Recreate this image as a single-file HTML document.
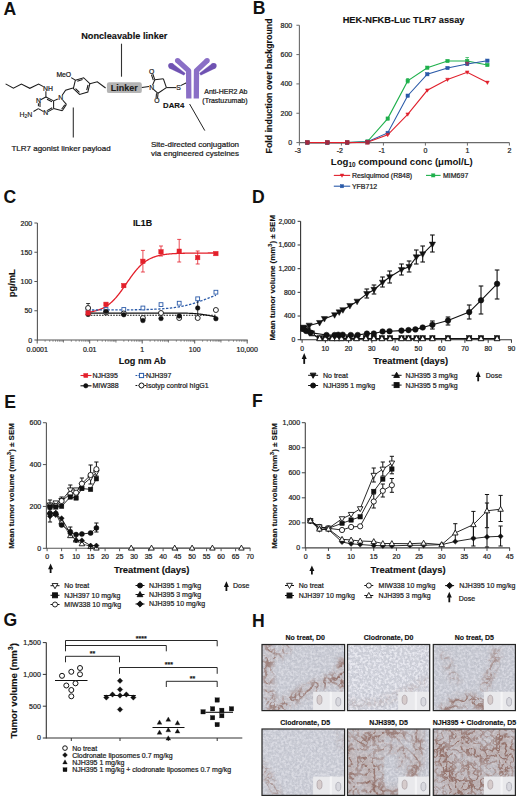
<!DOCTYPE html>
<html><head><meta charset="utf-8"><style>
html,body{margin:0;padding:0;background:#fff;}
svg{display:block;font-family:"Liberation Sans", sans-serif;}
</style></head><body>
<svg width="520" height="806" viewBox="0 0 520 806">
<rect width="520" height="806" fill="#fff"/>
<text x="3.60" y="14.60" font-size="17.6" text-anchor="start" font-weight="bold" fill="#111"  >A</text>
<text x="252.80" y="14.30" font-size="17.6" text-anchor="start" font-weight="bold" fill="#111"  >B</text>
<text x="3.40" y="203.20" font-size="17.6" text-anchor="start" font-weight="bold" fill="#111"  >C</text>
<text x="252.00" y="202.70" font-size="17.6" text-anchor="start" font-weight="bold" fill="#111"  >D</text>
<text x="4.20" y="408.00" font-size="17.6" text-anchor="start" font-weight="bold" fill="#111"  >E</text>
<text x="252.00" y="407.30" font-size="17.6" text-anchor="start" font-weight="bold" fill="#111"  >F</text>
<text x="3.60" y="626.30" font-size="17.6" text-anchor="start" font-weight="bold" fill="#111"  >G</text>
<text x="252.00" y="626.80" font-size="17.6" text-anchor="start" font-weight="bold" fill="#111"  >H</text>
<text x="124.30" y="39.00" font-size="9.2" text-anchor="middle" font-weight="bold" fill="#111" stroke="#111" stroke-width="0.14" >Noncleavable linker</text>
<line x1="121.50" y1="43.70" x2="121.50" y2="76.70" stroke="#333" stroke-width="1.1" />
<line x1="73.30" y1="107.50" x2="73.30" y2="137.50" stroke="#333" stroke-width="1.1" />
<text x="61.00" y="151.30" font-size="8.0" text-anchor="middle" font-weight="normal" fill="#1a1a1a" stroke="#1a1a1a" stroke-width="0.22" >TLR7 agonist linker payload</text>
<polyline points="5.60,83.90 13.40,88.20 21.40,84.00 29.80,88.30 38.60,84.10 43.40,86.60" stroke="#1a1a1a" stroke-width="1.05" fill="none" />
<text x="48.00" y="90.80" font-size="6.8" text-anchor="middle" font-weight="normal" fill="#1a1a1a" stroke="#1a1a1a" stroke-width="0.22" >NH</text>
<line x1="45.90" y1="91.20" x2="45.90" y2="97.00" stroke="#1a1a1a" stroke-width="1.05" />
<line x1="45.90" y1="97.00" x2="40.65" y2="99.73" stroke="#1a1a1a" stroke-width="1.05" />
<line x1="38.40" y1="103.21" x2="38.40" y2="106.29" stroke="#1a1a1a" stroke-width="1.05" />
<line x1="38.40" y1="108.60" x2="43.51" y2="111.61" stroke="#1a1a1a" stroke-width="1.05" />
<line x1="48.07" y1="111.61" x2="53.60" y2="108.60" stroke="#1a1a1a" stroke-width="1.05" />
<line x1="53.60" y1="108.60" x2="53.60" y2="100.90" stroke="#1a1a1a" stroke-width="1.05" />
<line x1="53.60" y1="100.90" x2="45.90" y2="97.00" stroke="#1a1a1a" stroke-width="1.05" />
<line x1="40.00" y1="102.60" x2="40.00" y2="106.90" stroke="#1a1a1a" stroke-width="1.05" />
<line x1="47.00" y1="99.20" x2="52.00" y2="101.80" stroke="#1a1a1a" stroke-width="1.05" />
<line x1="47.50" y1="110.40" x2="52.20" y2="107.80" stroke="#1a1a1a" stroke-width="1.05" />
<text x="38.40" y="103.10" font-size="6.8" text-anchor="middle" font-weight="normal" fill="#1a1a1a" stroke="#1a1a1a" stroke-width="0.22" >N</text>
<text x="45.70" y="115.20" font-size="6.8" text-anchor="middle" font-weight="normal" fill="#1a1a1a" stroke="#1a1a1a" stroke-width="0.22" >N</text>
<line x1="38.40" y1="108.60" x2="33.50" y2="111.50" stroke="#1a1a1a" stroke-width="1.05" />
<text x="19.4" y="116.6" font-size="7" fill="#1a1a1a" stroke="#1a1a1a" stroke-width="0.15">H<tspan font-size="4.8" dy="1.7">2</tspan><tspan dy="-1.7">N</tspan></text>
<line x1="53.60" y1="100.90" x2="57.80" y2="98.92" stroke="#1a1a1a" stroke-width="1.05" />
<line x1="62.63" y1="99.98" x2="66.40" y2="104.40" stroke="#1a1a1a" stroke-width="1.05" />
<line x1="66.40" y1="104.40" x2="62.30" y2="110.80" stroke="#1a1a1a" stroke-width="1.05" />
<line x1="62.30" y1="110.80" x2="53.60" y2="108.60" stroke="#1a1a1a" stroke-width="1.05" />
<line x1="64.80" y1="104.80" x2="61.60" y2="109.20" stroke="#1a1a1a" stroke-width="1.05" />
<text x="60.60" y="99.80" font-size="6.8" text-anchor="middle" font-weight="normal" fill="#1a1a1a" stroke="#1a1a1a" stroke-width="0.22" >N</text>
<polyline points="62.20,95.20 65.60,90.20 72.90,88.00" stroke="#1a1a1a" stroke-width="1.05" fill="none" />
<polyline points="75.37,80.17 83.62,77.74 89.85,83.67 87.83,92.03 79.58,94.46 73.35,88.53 75.37,80.17" stroke="#1a1a1a" stroke-width="1.05" fill="none" />
<line x1="77.28" y1="81.17" x2="82.56" y2="79.62" stroke="#1a1a1a" stroke-width="1.05" />
<line x1="88.03" y1="84.82" x2="86.73" y2="90.17" stroke="#1a1a1a" stroke-width="1.05" />
<line x1="79.49" y1="92.31" x2="75.51" y2="88.51" stroke="#1a1a1a" stroke-width="1.05" />
<line x1="75.37" y1="80.17" x2="71.20" y2="77.60" stroke="#1a1a1a" stroke-width="1.05" />
<text x="63.80" y="77.40" font-size="6.8" text-anchor="middle" font-weight="normal" fill="#1a1a1a" stroke="#1a1a1a" stroke-width="0.22" >MeO</text>
<polyline points="89.85,83.67 97.30,81.80 105.60,88.00" stroke="#1a1a1a" stroke-width="1.05" fill="none" />
<rect x="106.9" y="82.3" width="34.9" height="10.8" rx="2.2" fill="#b4b4b4"/>
<text x="124.30" y="91.30" font-size="9.0" text-anchor="middle" font-weight="bold" fill="#1a1a1a" stroke="#1a1a1a" stroke-width="0.14" >Linker</text>
<line x1="141.80" y1="87.60" x2="149.00" y2="86.60" stroke="#1a1a1a" stroke-width="1.05" />
<line x1="152.56" y1="85.23" x2="154.80" y2="79.70" stroke="#1a1a1a" stroke-width="1.05" />
<line x1="154.80" y1="79.70" x2="163.40" y2="78.80" stroke="#1a1a1a" stroke-width="1.05" />
<line x1="163.40" y1="78.80" x2="166.40" y2="87.60" stroke="#1a1a1a" stroke-width="1.05" />
<line x1="166.40" y1="87.60" x2="158.00" y2="93.30" stroke="#1a1a1a" stroke-width="1.05" />
<line x1="158.00" y1="93.30" x2="153.52" y2="89.31" stroke="#1a1a1a" stroke-width="1.05" />
<text x="151.60" y="89.80" font-size="6.8" text-anchor="middle" font-weight="normal" fill="#1a1a1a" stroke="#1a1a1a" stroke-width="0.22" >N</text>
<line x1="154.80" y1="79.70" x2="152.80" y2="74.00" stroke="#1a1a1a" stroke-width="1.05" />
<line x1="153.30" y1="80.20" x2="151.40" y2="74.60" stroke="#1a1a1a" stroke-width="1.05" />
<text x="151.60" y="73.80" font-size="6.8" text-anchor="middle" font-weight="normal" fill="#1a1a1a" stroke="#1a1a1a" stroke-width="0.22" >O</text>
<line x1="158.00" y1="93.30" x2="157.60" y2="98.00" stroke="#1a1a1a" stroke-width="1.05" />
<line x1="156.50" y1="93.30" x2="156.10" y2="98.00" stroke="#1a1a1a" stroke-width="1.05" />
<text x="157.00" y="102.80" font-size="6.8" text-anchor="middle" font-weight="normal" fill="#1a1a1a" stroke="#1a1a1a" stroke-width="0.22" >O</text>
<line x1="166.40" y1="87.60" x2="176.40" y2="87.60" stroke="#1a1a1a" stroke-width="1.05" />
<text x="178.60" y="89.80" font-size="6.8" text-anchor="middle" font-weight="normal" fill="#1a1a1a" stroke="#1a1a1a" stroke-width="0.22" >S</text>
<line x1="180.60" y1="85.60" x2="186.50" y2="82.80" stroke="#1a1a1a" stroke-width="1.05" />
<polyline points="177.6,60.6 188.6,70.6 188.8,98.4" fill="none" stroke="#8a6fc6" stroke-width="5.3" stroke-linejoin="round"/>
<polyline points="207.1,60.6 196.5,70.6 196.3,98.4" fill="none" stroke="#8a6fc6" stroke-width="5.3" stroke-linejoin="round"/>
<circle cx="177.6" cy="60.6" r="2.65" fill="#8a6fc6"/>
<circle cx="207.1" cy="60.6" r="2.65" fill="#8a6fc6"/>
<polygon points="169.53,68.18 184.02,75.14 185.18,73.26 172.47,63.42" fill="#6f52b2" stroke="#6f52b2" stroke-width="0.4" stroke-linejoin="round"/>
<circle cx="171.00" cy="65.80" r="2.80" fill="#6f52b2"/>
<polygon points="212.33,63.42 199.62,73.26 200.78,75.14 215.27,68.18" fill="#6f52b2" stroke="#6f52b2" stroke-width="0.4" stroke-linejoin="round"/>
<circle cx="213.80" cy="65.80" r="2.80" fill="#6f52b2"/>
<text x="204.30" y="94.00" font-size="7.0" text-anchor="start" font-weight="normal" fill="#1a1a1a" stroke="#1a1a1a" stroke-width="0.22" >Anti-HER2 Ab</text>
<text x="202.30" y="102.80" font-size="7.0" text-anchor="start" font-weight="normal" fill="#1a1a1a" stroke="#1a1a1a" stroke-width="0.22" >(Trastuzumab)</text>
<text x="163.00" y="108.20" font-size="7.8" text-anchor="start" font-weight="bold" fill="#111" stroke="#111" stroke-width="0.14" >DAR4</text>
<line x1="189.60" y1="104.00" x2="204.80" y2="130.60" stroke="#222" stroke-width="1.0" />
<text x="151.00" y="147.40" font-size="8.0" text-anchor="start" font-weight="normal" fill="#1a1a1a" stroke="#1a1a1a" stroke-width="0.22" >Site-directed conjugation</text>
<text x="151.00" y="155.80" font-size="8.0" text-anchor="start" font-weight="normal" fill="#1a1a1a" stroke="#1a1a1a" stroke-width="0.22" >via engineered cysteines</text>
<line x1="299.40" y1="143.10" x2="299.40" y2="25.24" stroke="#6a6a6a" stroke-width="1.1" />
<line x1="299.40" y1="142.60" x2="509.40" y2="142.60" stroke="#6a6a6a" stroke-width="1.1" />
<line x1="296.40" y1="142.60" x2="299.40" y2="142.60" stroke="#6a6a6a" stroke-width="1" />
<text x="292.20" y="145.00" font-size="7" text-anchor="end" font-weight="normal" fill="#222" stroke="#222" stroke-width="0.22" >0</text>
<line x1="296.40" y1="113.26" x2="299.40" y2="113.26" stroke="#6a6a6a" stroke-width="1" />
<text x="292.20" y="115.66" font-size="7" text-anchor="end" font-weight="normal" fill="#222" stroke="#222" stroke-width="0.22" >200</text>
<line x1="296.40" y1="83.92" x2="299.40" y2="83.92" stroke="#6a6a6a" stroke-width="1" />
<text x="292.20" y="86.32" font-size="7" text-anchor="end" font-weight="normal" fill="#222" stroke="#222" stroke-width="0.22" >400</text>
<line x1="296.40" y1="54.58" x2="299.40" y2="54.58" stroke="#6a6a6a" stroke-width="1" />
<text x="292.20" y="56.98" font-size="7" text-anchor="end" font-weight="normal" fill="#222" stroke="#222" stroke-width="0.22" >600</text>
<line x1="296.40" y1="25.24" x2="299.40" y2="25.24" stroke="#6a6a6a" stroke-width="1" />
<text x="292.20" y="27.64" font-size="7" text-anchor="end" font-weight="normal" fill="#222" stroke="#222" stroke-width="0.22" >800</text>
<line x1="299.40" y1="142.60" x2="299.40" y2="145.60" stroke="#6a6a6a" stroke-width="1" />
<text x="297.80" y="153.20" font-size="7" text-anchor="middle" font-weight="normal" fill="#222" stroke="#222" stroke-width="0.22" >-3</text>
<line x1="341.40" y1="142.60" x2="341.40" y2="145.60" stroke="#6a6a6a" stroke-width="1" />
<text x="339.80" y="153.20" font-size="7" text-anchor="middle" font-weight="normal" fill="#222" stroke="#222" stroke-width="0.22" >-2</text>
<line x1="383.40" y1="142.60" x2="383.40" y2="145.60" stroke="#6a6a6a" stroke-width="1" />
<text x="381.80" y="153.20" font-size="7" text-anchor="middle" font-weight="normal" fill="#222" stroke="#222" stroke-width="0.22" >-1</text>
<line x1="425.40" y1="142.60" x2="425.40" y2="145.60" stroke="#6a6a6a" stroke-width="1" />
<text x="425.40" y="153.20" font-size="7" text-anchor="middle" font-weight="normal" fill="#222" stroke="#222" stroke-width="0.22" >0</text>
<line x1="467.40" y1="142.60" x2="467.40" y2="145.60" stroke="#6a6a6a" stroke-width="1" />
<text x="467.40" y="153.20" font-size="7" text-anchor="middle" font-weight="normal" fill="#222" stroke="#222" stroke-width="0.22" >1</text>
<line x1="509.40" y1="142.60" x2="509.40" y2="145.60" stroke="#6a6a6a" stroke-width="1" />
<text x="509.40" y="153.20" font-size="7" text-anchor="middle" font-weight="normal" fill="#222" stroke="#222" stroke-width="0.22" >2</text>
<text x="403.60" y="23.30" font-size="9.25" text-anchor="middle" font-weight="bold" fill="#111" stroke="#111" stroke-width="0.14" >HEK-NFKB-Luc TLR7 assay</text>
<text transform="translate(272.30,85.90) rotate(-90)" font-size="8.85" text-anchor="middle" font-weight="bold" fill="#111" stroke="#111" stroke-width="0.14">Fold induction over background</text>
<text x="330.8" y="164.6" font-size="9.6" font-weight="bold" fill="#111">Log<tspan font-size="6.4" dy="2.2">10</tspan><tspan dy="-2.2"> compound conc (&#956;mol/L)</tspan></text>
<polyline points="307.40,142.60 327.40,142.60 347.20,142.60 367.50,141.50 387.70,118.60 407.70,80.90 427.30,67.70 447.50,61.00 467.20,61.00 487.40,65.00" stroke="#1fb04c" stroke-width="1.1" fill="none" />
<polyline points="307.40,142.60 327.40,142.60 347.20,142.60 367.50,141.80 387.70,132.90 407.70,95.70 427.30,74.20 447.50,68.00 467.20,64.00 487.40,60.70" stroke="#2a5aa8" stroke-width="1.1" fill="none" />
<polyline points="307.40,142.60 327.40,142.60 347.20,142.60 367.50,142.20 387.70,134.80 407.70,114.30 427.30,90.30 447.50,79.60 467.20,72.30 487.40,82.50" stroke="#e0202c" stroke-width="1.1" fill="none" />
<line x1="467.20" y1="57.50" x2="467.20" y2="64.50" stroke="#1fb04c" stroke-width="0.7" />
<line x1="465.40" y1="57.50" x2="469.00" y2="57.50" stroke="#1fb04c" stroke-width="0.7" />
<line x1="465.40" y1="64.50" x2="469.00" y2="64.50" stroke="#1fb04c" stroke-width="0.7" />
<line x1="407.70" y1="78.50" x2="407.70" y2="83.00" stroke="#1fb04c" stroke-width="0.7" />
<line x1="406.20" y1="78.50" x2="409.20" y2="78.50" stroke="#1fb04c" stroke-width="0.7" />
<line x1="406.20" y1="83.00" x2="409.20" y2="83.00" stroke="#1fb04c" stroke-width="0.7" />
<rect x="305.70" y="140.90" width="3.40" height="3.40" fill="#1fb04c" stroke="#1fb04c" stroke-width="0.5"/>
<rect x="325.70" y="140.90" width="3.40" height="3.40" fill="#1fb04c" stroke="#1fb04c" stroke-width="0.5"/>
<rect x="345.50" y="140.90" width="3.40" height="3.40" fill="#1fb04c" stroke="#1fb04c" stroke-width="0.5"/>
<rect x="365.80" y="139.80" width="3.40" height="3.40" fill="#1fb04c" stroke="#1fb04c" stroke-width="0.5"/>
<rect x="386.00" y="116.90" width="3.40" height="3.40" fill="#1fb04c" stroke="#1fb04c" stroke-width="0.5"/>
<rect x="406.00" y="79.20" width="3.40" height="3.40" fill="#1fb04c" stroke="#1fb04c" stroke-width="0.5"/>
<rect x="425.60" y="66.00" width="3.40" height="3.40" fill="#1fb04c" stroke="#1fb04c" stroke-width="0.5"/>
<rect x="445.80" y="59.30" width="3.40" height="3.40" fill="#1fb04c" stroke="#1fb04c" stroke-width="0.5"/>
<rect x="465.50" y="59.30" width="3.40" height="3.40" fill="#1fb04c" stroke="#1fb04c" stroke-width="0.5"/>
<rect x="485.70" y="63.30" width="3.40" height="3.40" fill="#1fb04c" stroke="#1fb04c" stroke-width="0.5"/>
<rect x="305.70" y="140.90" width="3.40" height="3.40" fill="#2a5aa8" stroke="#2a5aa8" stroke-width="0.5"/>
<rect x="325.70" y="140.90" width="3.40" height="3.40" fill="#2a5aa8" stroke="#2a5aa8" stroke-width="0.5"/>
<rect x="345.50" y="140.90" width="3.40" height="3.40" fill="#2a5aa8" stroke="#2a5aa8" stroke-width="0.5"/>
<rect x="365.80" y="140.10" width="3.40" height="3.40" fill="#2a5aa8" stroke="#2a5aa8" stroke-width="0.5"/>
<rect x="386.00" y="131.20" width="3.40" height="3.40" fill="#2a5aa8" stroke="#2a5aa8" stroke-width="0.5"/>
<rect x="406.00" y="94.00" width="3.40" height="3.40" fill="#2a5aa8" stroke="#2a5aa8" stroke-width="0.5"/>
<rect x="425.60" y="72.50" width="3.40" height="3.40" fill="#2a5aa8" stroke="#2a5aa8" stroke-width="0.5"/>
<rect x="445.80" y="66.30" width="3.40" height="3.40" fill="#2a5aa8" stroke="#2a5aa8" stroke-width="0.5"/>
<rect x="465.50" y="62.30" width="3.40" height="3.40" fill="#2a5aa8" stroke="#2a5aa8" stroke-width="0.5"/>
<rect x="485.70" y="59.00" width="3.40" height="3.40" fill="#2a5aa8" stroke="#2a5aa8" stroke-width="0.5"/>
<polygon points="305.56,141.22 309.24,141.22 307.40,144.53" fill="#e0202c" stroke="#e0202c" stroke-width="0.5" stroke-linejoin="miter"/>
<polygon points="325.56,141.22 329.24,141.22 327.40,144.53" fill="#e0202c" stroke="#e0202c" stroke-width="0.5" stroke-linejoin="miter"/>
<polygon points="345.36,141.22 349.04,141.22 347.20,144.53" fill="#e0202c" stroke="#e0202c" stroke-width="0.5" stroke-linejoin="miter"/>
<polygon points="365.66,140.82 369.34,140.82 367.50,144.13" fill="#e0202c" stroke="#e0202c" stroke-width="0.5" stroke-linejoin="miter"/>
<polygon points="385.86,133.42 389.54,133.42 387.70,136.73" fill="#e0202c" stroke="#e0202c" stroke-width="0.5" stroke-linejoin="miter"/>
<polygon points="405.86,112.92 409.54,112.92 407.70,116.23" fill="#e0202c" stroke="#e0202c" stroke-width="0.5" stroke-linejoin="miter"/>
<polygon points="425.46,88.92 429.14,88.92 427.30,92.23" fill="#e0202c" stroke="#e0202c" stroke-width="0.5" stroke-linejoin="miter"/>
<polygon points="445.66,78.22 449.34,78.22 447.50,81.53" fill="#e0202c" stroke="#e0202c" stroke-width="0.5" stroke-linejoin="miter"/>
<polygon points="465.36,70.92 469.04,70.92 467.20,74.23" fill="#e0202c" stroke="#e0202c" stroke-width="0.5" stroke-linejoin="miter"/>
<polygon points="485.56,81.12 489.24,81.12 487.40,84.43" fill="#e0202c" stroke="#e0202c" stroke-width="0.5" stroke-linejoin="miter"/>
<polygon points="465.13,61.95 469.27,61.95 467.20,65.67" fill="#8a3a60" stroke="#8a3a60" stroke-width="0.5" stroke-linejoin="miter"/>
<rect x="305.50" y="140.50" width="3.80" height="3.80" fill="#a3283f" stroke="#a3283f" stroke-width="0.4"/>
<rect x="325.50" y="140.50" width="3.80" height="3.80" fill="#a3283f" stroke="#a3283f" stroke-width="0.4"/>
<rect x="345.30" y="140.50" width="3.80" height="3.80" fill="#a3283f" stroke="#a3283f" stroke-width="0.4"/>
<rect x="365.60" y="140.50" width="3.80" height="3.80" fill="#a3283f" stroke="#a3283f" stroke-width="0.4"/>
<line x1="333.80" y1="175.40" x2="350.20" y2="175.40" stroke="#e0202c" stroke-width="1.1" />
<polygon points="340.16,174.02 343.84,174.02 342.00,177.33" fill="#e0202c" stroke="#e0202c" stroke-width="0.5" stroke-linejoin="miter"/>
<text x="351.90" y="177.90" font-size="7" text-anchor="start" font-weight="normal" fill="#222" stroke="#222" stroke-width="0.22" >Resiquimod (R848)</text>
<line x1="426.00" y1="175.40" x2="440.60" y2="175.40" stroke="#1fb04c" stroke-width="1.1" />
<rect x="431.70" y="173.80" width="3.20" height="3.20" fill="#1fb04c" stroke="#1fb04c" stroke-width="0.5"/>
<text x="443.00" y="177.90" font-size="7" text-anchor="start" font-weight="normal" fill="#222" stroke="#222" stroke-width="0.22" >MIM697</text>
<line x1="333.80" y1="186.20" x2="350.20" y2="186.20" stroke="#2a5aa8" stroke-width="1.1" />
<rect x="340.40" y="184.60" width="3.20" height="3.20" fill="#2a5aa8" stroke="#2a5aa8" stroke-width="0.5"/>
<text x="351.90" y="188.70" font-size="7" text-anchor="start" font-weight="normal" fill="#222" stroke="#222" stroke-width="0.22" >YFB712</text>
<line x1="37.40" y1="340.50" x2="37.40" y2="223.00" stroke="#555" stroke-width="1.1" />
<line x1="37.40" y1="340.00" x2="247.70" y2="340.00" stroke="#555" stroke-width="1.1" />
<line x1="34.40" y1="340.00" x2="37.40" y2="340.00" stroke="#555" stroke-width="1" />
<text x="32.20" y="342.50" font-size="7" text-anchor="end" font-weight="normal" fill="#222" stroke="#222" stroke-width="0.22" >0</text>
<line x1="34.40" y1="310.75" x2="37.40" y2="310.75" stroke="#555" stroke-width="1" />
<text x="32.20" y="313.25" font-size="7" text-anchor="end" font-weight="normal" fill="#222" stroke="#222" stroke-width="0.22" >50</text>
<line x1="34.40" y1="281.50" x2="37.40" y2="281.50" stroke="#555" stroke-width="1" />
<text x="32.20" y="284.00" font-size="7" text-anchor="end" font-weight="normal" fill="#222" stroke="#222" stroke-width="0.22" >100</text>
<line x1="34.40" y1="252.25" x2="37.40" y2="252.25" stroke="#555" stroke-width="1" />
<text x="32.20" y="254.75" font-size="7" text-anchor="end" font-weight="normal" fill="#222" stroke="#222" stroke-width="0.22" >150</text>
<line x1="34.40" y1="223.00" x2="37.40" y2="223.00" stroke="#555" stroke-width="1" />
<text x="32.20" y="225.50" font-size="7" text-anchor="end" font-weight="normal" fill="#222" stroke="#222" stroke-width="0.22" >200</text>
<line x1="37.20" y1="340.00" x2="37.20" y2="343.50" stroke="#555" stroke-width="1" />
<line x1="45.10" y1="340.00" x2="45.10" y2="341.80" stroke="#555" stroke-width="0.6" />
<line x1="49.72" y1="340.00" x2="49.72" y2="341.80" stroke="#555" stroke-width="0.6" />
<line x1="53.00" y1="340.00" x2="53.00" y2="341.80" stroke="#555" stroke-width="0.6" />
<line x1="55.55" y1="340.00" x2="55.55" y2="341.80" stroke="#555" stroke-width="0.6" />
<line x1="57.63" y1="340.00" x2="57.63" y2="341.80" stroke="#555" stroke-width="0.6" />
<line x1="59.38" y1="340.00" x2="59.38" y2="341.80" stroke="#555" stroke-width="0.6" />
<line x1="60.91" y1="340.00" x2="60.91" y2="341.80" stroke="#555" stroke-width="0.6" />
<line x1="62.25" y1="340.00" x2="62.25" y2="341.80" stroke="#555" stroke-width="0.6" />
<line x1="63.45" y1="340.00" x2="63.45" y2="342.50" stroke="#555" stroke-width="0.8" />
<line x1="71.35" y1="340.00" x2="71.35" y2="341.80" stroke="#555" stroke-width="0.6" />
<line x1="75.97" y1="340.00" x2="75.97" y2="341.80" stroke="#555" stroke-width="0.6" />
<line x1="79.25" y1="340.00" x2="79.25" y2="341.80" stroke="#555" stroke-width="0.6" />
<line x1="81.80" y1="340.00" x2="81.80" y2="341.80" stroke="#555" stroke-width="0.6" />
<line x1="83.88" y1="340.00" x2="83.88" y2="341.80" stroke="#555" stroke-width="0.6" />
<line x1="85.63" y1="340.00" x2="85.63" y2="341.80" stroke="#555" stroke-width="0.6" />
<line x1="87.16" y1="340.00" x2="87.16" y2="341.80" stroke="#555" stroke-width="0.6" />
<line x1="88.50" y1="340.00" x2="88.50" y2="341.80" stroke="#555" stroke-width="0.6" />
<line x1="89.70" y1="340.00" x2="89.70" y2="343.50" stroke="#555" stroke-width="1" />
<line x1="97.60" y1="340.00" x2="97.60" y2="341.80" stroke="#555" stroke-width="0.6" />
<line x1="102.22" y1="340.00" x2="102.22" y2="341.80" stroke="#555" stroke-width="0.6" />
<line x1="105.50" y1="340.00" x2="105.50" y2="341.80" stroke="#555" stroke-width="0.6" />
<line x1="108.05" y1="340.00" x2="108.05" y2="341.80" stroke="#555" stroke-width="0.6" />
<line x1="110.13" y1="340.00" x2="110.13" y2="341.80" stroke="#555" stroke-width="0.6" />
<line x1="111.88" y1="340.00" x2="111.88" y2="341.80" stroke="#555" stroke-width="0.6" />
<line x1="113.41" y1="340.00" x2="113.41" y2="341.80" stroke="#555" stroke-width="0.6" />
<line x1="114.75" y1="340.00" x2="114.75" y2="341.80" stroke="#555" stroke-width="0.6" />
<line x1="115.95" y1="340.00" x2="115.95" y2="342.50" stroke="#555" stroke-width="0.8" />
<line x1="123.85" y1="340.00" x2="123.85" y2="341.80" stroke="#555" stroke-width="0.6" />
<line x1="128.47" y1="340.00" x2="128.47" y2="341.80" stroke="#555" stroke-width="0.6" />
<line x1="131.75" y1="340.00" x2="131.75" y2="341.80" stroke="#555" stroke-width="0.6" />
<line x1="134.30" y1="340.00" x2="134.30" y2="341.80" stroke="#555" stroke-width="0.6" />
<line x1="136.38" y1="340.00" x2="136.38" y2="341.80" stroke="#555" stroke-width="0.6" />
<line x1="138.13" y1="340.00" x2="138.13" y2="341.80" stroke="#555" stroke-width="0.6" />
<line x1="139.66" y1="340.00" x2="139.66" y2="341.80" stroke="#555" stroke-width="0.6" />
<line x1="141.00" y1="340.00" x2="141.00" y2="341.80" stroke="#555" stroke-width="0.6" />
<line x1="142.20" y1="340.00" x2="142.20" y2="343.50" stroke="#555" stroke-width="1" />
<line x1="150.10" y1="340.00" x2="150.10" y2="341.80" stroke="#555" stroke-width="0.6" />
<line x1="154.72" y1="340.00" x2="154.72" y2="341.80" stroke="#555" stroke-width="0.6" />
<line x1="158.00" y1="340.00" x2="158.00" y2="341.80" stroke="#555" stroke-width="0.6" />
<line x1="160.55" y1="340.00" x2="160.55" y2="341.80" stroke="#555" stroke-width="0.6" />
<line x1="162.63" y1="340.00" x2="162.63" y2="341.80" stroke="#555" stroke-width="0.6" />
<line x1="164.38" y1="340.00" x2="164.38" y2="341.80" stroke="#555" stroke-width="0.6" />
<line x1="165.91" y1="340.00" x2="165.91" y2="341.80" stroke="#555" stroke-width="0.6" />
<line x1="167.25" y1="340.00" x2="167.25" y2="341.80" stroke="#555" stroke-width="0.6" />
<line x1="168.45" y1="340.00" x2="168.45" y2="342.50" stroke="#555" stroke-width="0.8" />
<line x1="176.35" y1="340.00" x2="176.35" y2="341.80" stroke="#555" stroke-width="0.6" />
<line x1="180.97" y1="340.00" x2="180.97" y2="341.80" stroke="#555" stroke-width="0.6" />
<line x1="184.25" y1="340.00" x2="184.25" y2="341.80" stroke="#555" stroke-width="0.6" />
<line x1="186.80" y1="340.00" x2="186.80" y2="341.80" stroke="#555" stroke-width="0.6" />
<line x1="188.88" y1="340.00" x2="188.88" y2="341.80" stroke="#555" stroke-width="0.6" />
<line x1="190.63" y1="340.00" x2="190.63" y2="341.80" stroke="#555" stroke-width="0.6" />
<line x1="192.16" y1="340.00" x2="192.16" y2="341.80" stroke="#555" stroke-width="0.6" />
<line x1="193.50" y1="340.00" x2="193.50" y2="341.80" stroke="#555" stroke-width="0.6" />
<line x1="194.70" y1="340.00" x2="194.70" y2="343.50" stroke="#555" stroke-width="1" />
<line x1="202.60" y1="340.00" x2="202.60" y2="341.80" stroke="#555" stroke-width="0.6" />
<line x1="207.22" y1="340.00" x2="207.22" y2="341.80" stroke="#555" stroke-width="0.6" />
<line x1="210.50" y1="340.00" x2="210.50" y2="341.80" stroke="#555" stroke-width="0.6" />
<line x1="213.05" y1="340.00" x2="213.05" y2="341.80" stroke="#555" stroke-width="0.6" />
<line x1="215.13" y1="340.00" x2="215.13" y2="341.80" stroke="#555" stroke-width="0.6" />
<line x1="216.88" y1="340.00" x2="216.88" y2="341.80" stroke="#555" stroke-width="0.6" />
<line x1="218.41" y1="340.00" x2="218.41" y2="341.80" stroke="#555" stroke-width="0.6" />
<line x1="219.75" y1="340.00" x2="219.75" y2="341.80" stroke="#555" stroke-width="0.6" />
<line x1="220.95" y1="340.00" x2="220.95" y2="342.50" stroke="#555" stroke-width="0.8" />
<line x1="228.85" y1="340.00" x2="228.85" y2="341.80" stroke="#555" stroke-width="0.6" />
<line x1="233.47" y1="340.00" x2="233.47" y2="341.80" stroke="#555" stroke-width="0.6" />
<line x1="236.75" y1="340.00" x2="236.75" y2="341.80" stroke="#555" stroke-width="0.6" />
<line x1="239.30" y1="340.00" x2="239.30" y2="341.80" stroke="#555" stroke-width="0.6" />
<line x1="241.38" y1="340.00" x2="241.38" y2="341.80" stroke="#555" stroke-width="0.6" />
<line x1="243.13" y1="340.00" x2="243.13" y2="341.80" stroke="#555" stroke-width="0.6" />
<line x1="244.66" y1="340.00" x2="244.66" y2="341.80" stroke="#555" stroke-width="0.6" />
<line x1="246.00" y1="340.00" x2="246.00" y2="341.80" stroke="#555" stroke-width="0.6" />
<line x1="247.20" y1="340.00" x2="247.20" y2="343.50" stroke="#555" stroke-width="1" />
<text x="37.20" y="351.50" font-size="7" text-anchor="middle" font-weight="normal" fill="#222" stroke="#222" stroke-width="0.22" >0.0001</text>
<text x="89.70" y="351.50" font-size="7" text-anchor="middle" font-weight="normal" fill="#222" stroke="#222" stroke-width="0.22" >0.01</text>
<text x="142.20" y="351.50" font-size="7" text-anchor="middle" font-weight="normal" fill="#222" stroke="#222" stroke-width="0.22" >1</text>
<text x="194.70" y="351.50" font-size="7" text-anchor="middle" font-weight="normal" fill="#222" stroke="#222" stroke-width="0.22" >100</text>
<text x="247.20" y="351.50" font-size="7" text-anchor="middle" font-weight="normal" fill="#222" stroke="#222" stroke-width="0.22" >10,000</text>
<text x="142.50" y="226.20" font-size="8.9" text-anchor="middle" font-weight="bold" fill="#111" stroke="#111" stroke-width="0.14" >IL1B</text>
<text transform="translate(14.60,283.20) rotate(-90)" font-size="9.3" text-anchor="middle" font-weight="bold" fill="#111" stroke="#111" stroke-width="0.14">pg/mL</text>
<text x="142.30" y="364.00" font-size="9.1" text-anchor="middle" font-weight="bold" fill="#111" stroke="#111" stroke-width="0.14" >Log nm Ab</text>
<polyline points="88.00,312.34 88.50,312.27 89.00,312.19 89.50,312.11 90.00,312.03 90.50,311.95 91.00,311.86 91.50,311.77 92.00,311.67 92.50,311.57 93.00,311.47 93.50,311.36 94.00,311.24 94.50,311.12 95.00,310.99 95.50,310.86 96.00,310.73 96.50,310.58 97.00,310.43 97.50,310.28 98.00,310.11 98.50,309.94 99.00,309.77 99.50,309.58 100.00,309.39 100.50,309.19 101.00,308.98 101.50,308.76 102.00,308.53 102.50,308.30 103.00,308.05 103.50,307.80 104.00,307.53 104.50,307.26 105.00,306.97 105.50,306.67 106.00,306.37 106.50,306.05 107.00,305.72 107.50,305.37 108.00,305.02 108.50,304.65 109.00,304.27 109.50,303.88 110.00,303.47 110.50,303.05 111.00,302.62 111.50,302.18 112.00,301.72 112.50,301.24 113.00,300.76 113.50,300.26 114.00,299.75 114.50,299.22 115.00,298.68 115.50,298.13 116.00,297.56 116.50,296.98 117.00,296.39 117.50,295.79 118.00,295.17 118.50,294.55 119.00,293.91 119.50,293.26 120.00,292.60 120.50,291.93 121.00,291.26 121.50,290.57 122.00,289.88 122.50,289.18 123.00,288.47 123.50,287.75 124.00,287.04 124.50,286.31 125.00,285.59 125.50,284.86 126.00,284.13 126.50,283.40 127.00,282.67 127.50,281.94 128.00,281.21 128.50,280.49 129.00,279.76 129.50,279.05 130.00,278.33 130.50,277.62 131.00,276.92 131.50,276.23 132.00,275.54 132.50,274.87 133.00,274.20 133.50,273.54 134.00,272.89 134.50,272.25 135.00,271.63 135.50,271.01 136.00,270.41 136.50,269.82 137.00,269.24 137.50,268.67 138.00,268.12 138.50,267.58 139.00,267.05 139.50,266.54 140.00,266.04 140.50,265.56 141.00,265.08 141.50,264.62 142.00,264.18 142.50,263.75 143.00,263.33 143.50,262.92 144.00,262.53 144.50,262.15 145.00,261.78 145.50,261.43 146.00,261.08 146.50,260.75 147.00,260.43 147.50,260.13 148.00,259.83 148.50,259.54 149.00,259.27 149.50,259.00 150.00,258.75 150.50,258.50 151.00,258.27 151.50,258.04 152.00,257.82 152.50,257.61 153.00,257.41 153.50,257.22 154.00,257.03 154.50,256.86 155.00,256.69 155.50,256.52 156.00,256.37 156.50,256.22 157.00,256.07 157.50,255.94 158.00,255.81 158.50,255.68 159.00,255.56 159.50,255.44 160.00,255.33 160.50,255.23 161.00,255.13 161.50,255.03 162.00,254.94 162.50,254.85 163.00,254.77 163.50,254.69 164.00,254.61 164.50,254.53 165.00,254.46 165.50,254.40 166.00,254.33 166.50,254.27 167.00,254.21 167.50,254.16 168.00,254.10 168.50,254.05 169.00,254.00 169.50,253.96 170.00,253.91 170.50,253.87 171.00,253.83 171.50,253.79 172.00,253.76 172.50,253.72 173.00,253.69 173.50,253.66 174.00,253.62 174.50,253.60 175.00,253.57 175.50,253.54 176.00,253.52 176.50,253.49 177.00,253.47 177.50,253.45 178.00,253.43 178.50,253.41 179.00,253.39 179.50,253.37 180.00,253.35 180.50,253.34 181.00,253.32 181.50,253.31 182.00,253.29 182.50,253.28 183.00,253.26 183.50,253.25 184.00,253.24 184.50,253.23 185.00,253.22 185.50,253.21 186.00,253.20 186.50,253.19 187.00,253.18 187.50,253.17 188.00,253.16 188.50,253.16 189.00,253.15 189.50,253.14 190.00,253.14 190.50,253.13 191.00,253.12 191.50,253.12 192.00,253.11 192.50,253.11 193.00,253.10 193.50,253.10 194.00,253.09 194.50,253.09 195.00,253.08 195.50,253.08 196.00,253.08 196.50,253.07 197.00,253.07 197.50,253.07 198.00,253.06 198.50,253.06 199.00,253.06 199.50,253.05 200.00,253.05 200.50,253.05 201.00,253.05 201.50,253.04 202.00,253.04 202.50,253.04 203.00,253.04 203.50,253.04 204.00,253.04 204.50,253.03 205.00,253.03 205.50,253.03 206.00,253.03 206.50,253.03 207.00,253.03 207.50,253.03 208.00,253.02 208.50,253.02 209.00,253.02 209.50,253.02 210.00,253.02 210.50,253.02 211.00,253.02 211.50,253.02 212.00,253.02 212.50,253.02 213.00,253.01 213.50,253.01 214.00,253.01 214.50,253.01 215.00,253.01 215.50,253.01 216.00,253.01" stroke="#e3202b" stroke-width="1.3" fill="none" />
<polyline points="88.00,309.99 88.50,309.99 89.00,309.99 89.50,309.99 90.00,309.99 90.50,309.99 91.00,309.99 91.50,309.98 92.00,309.98 92.50,309.98 93.00,309.98 93.50,309.98 94.00,309.98 94.50,309.98 95.00,309.98 95.50,309.98 96.00,309.98 96.50,309.98 97.00,309.98 97.50,309.98 98.00,309.98 98.50,309.98 99.00,309.98 99.50,309.97 100.00,309.97 100.50,309.97 101.00,309.97 101.50,309.97 102.00,309.97 102.50,309.97 103.00,309.97 103.50,309.97 104.00,309.97 104.50,309.97 105.00,309.96 105.50,309.96 106.00,309.96 106.50,309.96 107.00,309.96 107.50,309.96 108.00,309.96 108.50,309.96 109.00,309.95 109.50,309.95 110.00,309.95 110.50,309.95 111.00,309.95 111.50,309.95 112.00,309.95 112.50,309.94 113.00,309.94 113.50,309.94 114.00,309.94 114.50,309.94 115.00,309.93 115.50,309.93 116.00,309.93 116.50,309.93 117.00,309.93 117.50,309.92 118.00,309.92 118.50,309.92 119.00,309.92 119.50,309.91 120.00,309.91 120.50,309.91 121.00,309.90 121.50,309.90 122.00,309.90 122.50,309.90 123.00,309.89 123.50,309.89 124.00,309.88 124.50,309.88 125.00,309.88 125.50,309.87 126.00,309.87 126.50,309.87 127.00,309.86 127.50,309.86 128.00,309.85 128.50,309.85 129.00,309.84 129.50,309.84 130.00,309.83 130.50,309.83 131.00,309.82 131.50,309.82 132.00,309.81 132.50,309.80 133.00,309.80 133.50,309.79 134.00,309.79 134.50,309.78 135.00,309.77 135.50,309.76 136.00,309.76 136.50,309.75 137.00,309.74 137.50,309.73 138.00,309.73 138.50,309.72 139.00,309.71 139.50,309.70 140.00,309.69 140.50,309.68 141.00,309.67 141.50,309.66 142.00,309.65 142.50,309.64 143.00,309.63 143.50,309.61 144.00,309.60 144.50,309.59 145.00,309.58 145.50,309.56 146.00,309.55 146.50,309.54 147.00,309.52 147.50,309.51 148.00,309.49 148.50,309.48 149.00,309.46 149.50,309.44 150.00,309.43 150.50,309.41 151.00,309.39 151.50,309.37 152.00,309.35 152.50,309.33 153.00,309.31 153.50,309.29 154.00,309.27 154.50,309.24 155.00,309.22 155.50,309.20 156.00,309.17 156.50,309.15 157.00,309.12 157.50,309.09 158.00,309.07 158.50,309.04 159.00,309.01 159.50,308.98 160.00,308.95 160.50,308.92 161.00,308.88 161.50,308.85 162.00,308.81 162.50,308.78 163.00,308.74 163.50,308.70 164.00,308.66 164.50,308.62 165.00,308.58 165.50,308.54 166.00,308.50 166.50,308.45 167.00,308.41 167.50,308.36 168.00,308.31 168.50,308.26 169.00,308.21 169.50,308.16 170.00,308.10 170.50,308.05 171.00,307.99 171.50,307.93 172.00,307.87 172.50,307.81 173.00,307.75 173.50,307.68 174.00,307.62 174.50,307.55 175.00,307.48 175.50,307.41 176.00,307.33 176.50,307.26 177.00,307.18 177.50,307.10 178.00,307.02 178.50,306.94 179.00,306.85 179.50,306.76 180.00,306.68 180.50,306.58 181.00,306.49 181.50,306.40 182.00,306.30 182.50,306.20 183.00,306.10 183.50,305.99 184.00,305.89 184.50,305.78 185.00,305.67 185.50,305.55 186.00,305.44 186.50,305.32 187.00,305.20 187.50,305.08 188.00,304.95 188.50,304.83 189.00,304.70 189.50,304.57 190.00,304.43 190.50,304.30 191.00,304.16 191.50,304.02 192.00,303.87 192.50,303.73 193.00,303.58 193.50,303.43 194.00,303.28 194.50,303.12 195.00,302.96 195.50,302.81 196.00,302.64 196.50,302.48 197.00,302.32 197.50,302.15 198.00,301.98 198.50,301.81 199.00,301.64 199.50,301.46 200.00,301.28 200.50,301.11 201.00,300.93 201.50,300.74 202.00,300.56 202.50,300.38 203.00,300.19 203.50,300.00 204.00,299.82 204.50,299.63 205.00,299.44 205.50,299.25 206.00,299.05 206.50,298.86 207.00,298.67 207.50,298.47 208.00,298.28 208.50,298.09 209.00,297.89 209.50,297.70 210.00,297.50 210.50,297.30 211.00,297.11 211.50,296.91 212.00,296.72 212.50,296.53 213.00,296.33 213.50,296.14 214.00,295.95 214.50,295.75 215.00,295.56 215.50,295.37 216.00,295.18" stroke="#2a5aa8" stroke-width="1.3" fill="none" stroke-dasharray="2.4,1.5"/>
<polyline points="88.00,313.20 88.50,313.20 89.00,313.20 89.50,313.20 90.00,313.20 90.50,313.20 91.00,313.20 91.50,313.20 92.00,313.20 92.50,313.20 93.00,313.20 93.50,313.20 94.00,313.20 94.50,313.20 95.00,313.20 95.50,313.20 96.00,313.20 96.50,313.20 97.00,313.20 97.50,313.20 98.00,313.20 98.50,313.20 99.00,313.20 99.50,313.20 100.00,313.20 100.50,313.20 101.00,313.20 101.50,313.20 102.00,313.20 102.50,313.20 103.00,313.20 103.50,313.20 104.00,313.20 104.50,313.20 105.00,313.20 105.50,313.20 106.00,313.20 106.50,313.20 107.00,313.20 107.50,313.20 108.00,313.20 108.50,313.20 109.00,313.20 109.50,313.20 110.00,313.20 110.50,313.20 111.00,313.20 111.50,313.20 112.00,313.20 112.50,313.20 113.00,313.20 113.50,313.20 114.00,313.20 114.50,313.20 115.00,313.20 115.50,313.20 116.00,313.20 116.50,313.20 117.00,313.20 117.50,313.20 118.00,313.20 118.50,313.20 119.00,313.20 119.50,313.20 120.00,313.20 120.50,313.20 121.00,313.20 121.50,313.20 122.00,313.20 122.50,313.20 123.00,313.20 123.50,313.20 124.00,313.20 124.50,313.20 125.00,313.20 125.50,313.20 126.00,313.20 126.50,313.20 127.00,313.20 127.50,313.20 128.00,313.20 128.50,313.20 129.00,313.20 129.50,313.20 130.00,313.20 130.50,313.20 131.00,313.20 131.50,313.20 132.00,313.20 132.50,313.20 133.00,313.20 133.50,313.20 134.00,313.20 134.50,313.20 135.00,313.20 135.50,313.20 136.00,313.20 136.50,313.20 137.00,313.20 137.50,313.20 138.00,313.20 138.50,313.20 139.00,313.20 139.50,313.20 140.00,313.20 140.50,313.20 141.00,313.20 141.50,313.20 142.00,313.20 142.50,313.20 143.00,313.20 143.50,313.20 144.00,313.20 144.50,313.20 145.00,313.20 145.50,313.20 146.00,313.20 146.50,313.20 147.00,313.20 147.50,313.20 148.00,313.20 148.50,313.20 149.00,313.20 149.50,313.20 150.00,313.20 150.50,313.20 151.00,313.20 151.50,313.20 152.00,313.20 152.50,313.20 153.00,313.20 153.50,313.20 154.00,313.20 154.50,313.20 155.00,313.20 155.50,313.20 156.00,313.20 156.50,313.20 157.00,313.20 157.50,313.20 158.00,313.20 158.50,313.20 159.00,313.20 159.50,313.20 160.00,313.20 160.50,313.20 161.00,313.20 161.50,313.20 162.00,313.20 162.50,313.20 163.00,313.20 163.50,313.20 164.00,313.20 164.50,313.20 165.00,313.20 165.50,313.20 166.00,313.20 166.50,313.20 167.00,313.20 167.50,313.20 168.00,313.20 168.50,313.20 169.00,313.20 169.50,313.20 170.00,313.20 170.50,313.20 171.00,313.20 171.50,313.20 172.00,313.20 172.50,313.20 173.00,313.20 173.50,313.20 174.00,313.20 174.50,313.20 175.00,313.20 175.50,313.20 176.00,313.20 176.50,313.20 177.00,313.20 177.50,313.20 178.00,313.20 178.50,313.20 179.00,313.20 179.50,313.20 180.00,313.20 180.50,313.20 181.00,313.20 181.50,313.20 182.00,313.20 182.50,313.20 183.00,313.20 183.50,313.20 184.00,313.20 184.50,313.20 185.00,313.20 185.50,313.20 186.00,313.20 186.50,313.21 187.00,313.22 187.50,313.22 188.00,313.24 188.50,313.25 189.00,313.26 189.50,313.28 190.00,313.30 190.50,313.32 191.00,313.34 191.50,313.37 192.00,313.40 192.50,313.43 193.00,313.46 193.50,313.49 194.00,313.52 194.50,313.56 195.00,313.60 195.50,313.64 196.00,313.68 196.50,313.73 197.00,313.78 197.50,313.82 198.00,313.88 198.50,313.93 199.00,313.98 199.50,314.04 200.00,314.10 200.50,314.16 201.00,314.22 201.50,314.29 202.00,314.36 202.50,314.43 203.00,314.50 203.50,314.57 204.00,314.64 204.50,314.72 205.00,314.80 205.50,314.88 206.00,314.96 206.50,315.05 207.00,315.14 207.50,315.22 208.00,315.32 208.50,315.41 209.00,315.50 209.50,315.60 210.00,315.70 210.50,315.80 211.00,315.90 211.50,316.01 212.00,316.12 212.50,316.22 213.00,316.34 213.50,316.45 214.00,316.56 214.50,316.68 215.00,316.80 215.50,316.92 216.00,317.04" stroke="#111" stroke-width="1.2" fill="none" />
<line x1="88.00" y1="315.30" x2="216.00" y2="315.30" stroke="#111" stroke-width="1.1" stroke-dasharray="1.6,1.2"/>
<line x1="142.90" y1="250.40" x2="142.90" y2="272.00" stroke="#e3202b" stroke-width="0.8" />
<line x1="140.90" y1="250.40" x2="144.90" y2="250.40" stroke="#e3202b" stroke-width="0.8" />
<line x1="140.90" y1="272.00" x2="144.90" y2="272.00" stroke="#e3202b" stroke-width="0.8" />
<line x1="161.00" y1="246.00" x2="161.00" y2="256.00" stroke="#e3202b" stroke-width="0.8" />
<line x1="159.00" y1="246.00" x2="163.00" y2="246.00" stroke="#e3202b" stroke-width="0.8" />
<line x1="159.00" y1="256.00" x2="163.00" y2="256.00" stroke="#e3202b" stroke-width="0.8" />
<line x1="179.20" y1="239.40" x2="179.20" y2="262.00" stroke="#e3202b" stroke-width="0.8" />
<line x1="177.20" y1="239.40" x2="181.20" y2="239.40" stroke="#e3202b" stroke-width="0.8" />
<line x1="177.20" y1="262.00" x2="181.20" y2="262.00" stroke="#e3202b" stroke-width="0.8" />
<line x1="197.70" y1="251.00" x2="197.70" y2="264.00" stroke="#e3202b" stroke-width="0.8" />
<line x1="195.70" y1="251.00" x2="199.70" y2="251.00" stroke="#e3202b" stroke-width="0.8" />
<line x1="195.70" y1="264.00" x2="199.70" y2="264.00" stroke="#e3202b" stroke-width="0.8" />
<line x1="88.10" y1="303.50" x2="88.10" y2="309.00" stroke="#111" stroke-width="0.8" />
<line x1="86.10" y1="303.50" x2="90.10" y2="303.50" stroke="#111" stroke-width="0.8" />
<line x1="86.10" y1="309.00" x2="90.10" y2="309.00" stroke="#111" stroke-width="0.8" />
<line x1="197.70" y1="299.00" x2="197.70" y2="316.00" stroke="#111" stroke-width="0.8" />
<line x1="197.70" y1="299.00" x2="197.70" y2="299.00" stroke="#111" stroke-width="0.8" />
<line x1="197.70" y1="316.00" x2="197.70" y2="316.00" stroke="#111" stroke-width="0.8" />
<rect x="86.20" y="308.60" width="3.80" height="3.80" fill="#fff" stroke="#2a5aa8" stroke-width="0.9"/>
<rect x="104.10" y="307.60" width="3.80" height="3.80" fill="#fff" stroke="#2a5aa8" stroke-width="0.9"/>
<rect x="121.90" y="307.60" width="3.80" height="3.80" fill="#fff" stroke="#2a5aa8" stroke-width="0.9"/>
<rect x="141.00" y="306.10" width="3.80" height="3.80" fill="#fff" stroke="#2a5aa8" stroke-width="0.9"/>
<rect x="159.10" y="302.70" width="3.80" height="3.80" fill="#fff" stroke="#2a5aa8" stroke-width="0.9"/>
<rect x="177.30" y="301.30" width="3.80" height="3.80" fill="#fff" stroke="#2a5aa8" stroke-width="0.9"/>
<rect x="195.80" y="296.90" width="3.80" height="3.80" fill="#fff" stroke="#2a5aa8" stroke-width="0.9"/>
<rect x="214.00" y="290.30" width="3.80" height="3.80" fill="#fff" stroke="#2a5aa8" stroke-width="0.9"/>
<circle cx="88.10" cy="308.00" r="2.50" fill="#fff" stroke="#111" stroke-width="0.9"/>
<circle cx="106.00" cy="312.40" r="2.50" fill="#fff" stroke="#111" stroke-width="0.9"/>
<circle cx="123.80" cy="313.50" r="2.50" fill="#fff" stroke="#111" stroke-width="0.9"/>
<circle cx="142.90" cy="318.00" r="2.50" fill="#fff" stroke="#111" stroke-width="0.9"/>
<circle cx="161.00" cy="313.00" r="2.50" fill="#fff" stroke="#111" stroke-width="0.9"/>
<circle cx="179.20" cy="318.00" r="2.50" fill="#fff" stroke="#111" stroke-width="0.9"/>
<circle cx="197.70" cy="318.00" r="2.50" fill="#fff" stroke="#111" stroke-width="0.9"/>
<circle cx="215.90" cy="310.00" r="2.50" fill="#fff" stroke="#111" stroke-width="0.9"/>
<circle cx="88.10" cy="314.40" r="2.30" fill="#111" stroke="#111" stroke-width="0.5"/>
<circle cx="106.00" cy="311.50" r="2.30" fill="#111" stroke="#111" stroke-width="0.5"/>
<circle cx="123.80" cy="314.70" r="2.30" fill="#111" stroke="#111" stroke-width="0.5"/>
<circle cx="142.90" cy="320.50" r="2.30" fill="#111" stroke="#111" stroke-width="0.5"/>
<circle cx="161.00" cy="318.50" r="2.30" fill="#111" stroke="#111" stroke-width="0.5"/>
<circle cx="179.20" cy="316.00" r="2.30" fill="#111" stroke="#111" stroke-width="0.5"/>
<circle cx="197.70" cy="308.00" r="2.30" fill="#111" stroke="#111" stroke-width="0.5"/>
<circle cx="215.90" cy="318.70" r="2.30" fill="#111" stroke="#111" stroke-width="0.5"/>
<rect x="85.90" y="310.80" width="4.40" height="4.40" fill="#e3202b" stroke="#e3202b" stroke-width="0.5"/>
<rect x="103.80" y="302.10" width="4.40" height="4.40" fill="#e3202b" stroke="#e3202b" stroke-width="0.5"/>
<rect x="121.60" y="283.40" width="4.40" height="4.40" fill="#e3202b" stroke="#e3202b" stroke-width="0.5"/>
<rect x="140.70" y="259.10" width="4.40" height="4.40" fill="#e3202b" stroke="#e3202b" stroke-width="0.5"/>
<rect x="158.80" y="249.60" width="4.40" height="4.40" fill="#e3202b" stroke="#e3202b" stroke-width="0.5"/>
<rect x="177.00" y="249.00" width="4.40" height="4.40" fill="#e3202b" stroke="#e3202b" stroke-width="0.5"/>
<rect x="195.50" y="255.40" width="4.40" height="4.40" fill="#e3202b" stroke="#e3202b" stroke-width="0.5"/>
<rect x="213.70" y="251.40" width="4.40" height="4.40" fill="#e3202b" stroke="#e3202b" stroke-width="0.5"/>
<line x1="80.50" y1="375.50" x2="91.50" y2="375.50" stroke="#e3202b" stroke-width="1.1" />
<rect x="83.80" y="373.50" width="4.00" height="4.00" fill="#e3202b" stroke="#e3202b" stroke-width="0.5"/>
<text x="92.50" y="378.00" font-size="7" text-anchor="start" font-weight="normal" fill="#222" stroke="#222" stroke-width="0.22" >NJH395</text>
<line x1="80.50" y1="385.80" x2="91.50" y2="385.80" stroke="#111" stroke-width="1.1" />
<circle cx="85.80" cy="385.80" r="2.20" fill="#111" stroke="#111" stroke-width="0.5"/>
<text x="92.50" y="388.30" font-size="7" text-anchor="start" font-weight="normal" fill="#222" stroke="#222" stroke-width="0.22" >MIW388</text>
<line x1="135.50" y1="375.50" x2="146.50" y2="375.50" stroke="#2a5aa8" stroke-width="1.0" stroke-dasharray="1.8,1.2"/>
<rect x="139.40" y="373.40" width="4.20" height="4.20" fill="#fff" stroke="#2a5aa8" stroke-width="1.0"/>
<text x="146.00" y="378.00" font-size="7" text-anchor="start" font-weight="normal" fill="#222" stroke="#222" stroke-width="0.22" >NJH397</text>
<line x1="135.50" y1="385.50" x2="146.50" y2="385.50" stroke="#111" stroke-width="1.0" stroke-dasharray="1.8,1.2"/>
<circle cx="141.50" cy="385.50" r="2.50" fill="#fff" stroke="#111" stroke-width="1.0"/>
<text x="146.00" y="388.00" font-size="7" text-anchor="start" font-weight="normal" fill="#222" stroke="#222" stroke-width="0.22" >Isotyp control hIgG1</text>
<line x1="300.60" y1="340.30" x2="300.60" y2="221.30" stroke="#333" stroke-width="1.1" />
<line x1="300.60" y1="339.80" x2="511.74" y2="339.80" stroke="#333" stroke-width="1.1" />
<line x1="297.60" y1="339.70" x2="300.60" y2="339.70" stroke="#333" stroke-width="1" />
<text x="295.40" y="342.10" font-size="6.8" text-anchor="end" font-weight="normal" fill="#222" stroke="#222" stroke-width="0.22" >0</text>
<line x1="297.60" y1="316.02" x2="300.60" y2="316.02" stroke="#333" stroke-width="1" />
<text x="295.40" y="318.42" font-size="6.8" text-anchor="end" font-weight="normal" fill="#222" stroke="#222" stroke-width="0.22" >400</text>
<line x1="297.60" y1="292.34" x2="300.60" y2="292.34" stroke="#333" stroke-width="1" />
<text x="295.40" y="294.74" font-size="6.8" text-anchor="end" font-weight="normal" fill="#222" stroke="#222" stroke-width="0.22" >800</text>
<line x1="297.60" y1="268.66" x2="300.60" y2="268.66" stroke="#333" stroke-width="1" />
<text x="295.40" y="271.06" font-size="6.8" text-anchor="end" font-weight="normal" fill="#222" stroke="#222" stroke-width="0.22" >1,200</text>
<line x1="297.60" y1="244.98" x2="300.60" y2="244.98" stroke="#333" stroke-width="1" />
<text x="295.40" y="247.38" font-size="6.8" text-anchor="end" font-weight="normal" fill="#222" stroke="#222" stroke-width="0.22" >1,600</text>
<line x1="297.60" y1="221.30" x2="300.60" y2="221.30" stroke="#333" stroke-width="1" />
<text x="295.40" y="223.70" font-size="6.8" text-anchor="end" font-weight="normal" fill="#222" stroke="#222" stroke-width="0.22" >2,000</text>
<line x1="302.10" y1="339.80" x2="302.10" y2="342.80" stroke="#333" stroke-width="1" />
<text x="302.10" y="350.60" font-size="6.8" text-anchor="middle" font-weight="normal" fill="#222" stroke="#222" stroke-width="0.22" >0</text>
<line x1="325.36" y1="339.80" x2="325.36" y2="342.80" stroke="#333" stroke-width="1" />
<text x="325.36" y="350.60" font-size="6.8" text-anchor="middle" font-weight="normal" fill="#222" stroke="#222" stroke-width="0.22" >10</text>
<line x1="348.62" y1="339.80" x2="348.62" y2="342.80" stroke="#333" stroke-width="1" />
<text x="348.62" y="350.60" font-size="6.8" text-anchor="middle" font-weight="normal" fill="#222" stroke="#222" stroke-width="0.22" >20</text>
<line x1="371.88" y1="339.80" x2="371.88" y2="342.80" stroke="#333" stroke-width="1" />
<text x="371.88" y="350.60" font-size="6.8" text-anchor="middle" font-weight="normal" fill="#222" stroke="#222" stroke-width="0.22" >30</text>
<line x1="395.14" y1="339.80" x2="395.14" y2="342.80" stroke="#333" stroke-width="1" />
<text x="395.14" y="350.60" font-size="6.8" text-anchor="middle" font-weight="normal" fill="#222" stroke="#222" stroke-width="0.22" >40</text>
<line x1="418.40" y1="339.80" x2="418.40" y2="342.80" stroke="#333" stroke-width="1" />
<text x="418.40" y="350.60" font-size="6.8" text-anchor="middle" font-weight="normal" fill="#222" stroke="#222" stroke-width="0.22" >50</text>
<line x1="441.66" y1="339.80" x2="441.66" y2="342.80" stroke="#333" stroke-width="1" />
<text x="441.66" y="350.60" font-size="6.8" text-anchor="middle" font-weight="normal" fill="#222" stroke="#222" stroke-width="0.22" >60</text>
<line x1="464.92" y1="339.80" x2="464.92" y2="342.80" stroke="#333" stroke-width="1" />
<text x="464.92" y="350.60" font-size="6.8" text-anchor="middle" font-weight="normal" fill="#222" stroke="#222" stroke-width="0.22" >70</text>
<line x1="488.18" y1="339.80" x2="488.18" y2="342.80" stroke="#333" stroke-width="1" />
<text x="488.18" y="350.60" font-size="6.8" text-anchor="middle" font-weight="normal" fill="#222" stroke="#222" stroke-width="0.22" >80</text>
<line x1="511.44" y1="339.80" x2="511.44" y2="342.80" stroke="#333" stroke-width="1" />
<text x="511.44" y="350.60" font-size="6.8" text-anchor="middle" font-weight="normal" fill="#222" stroke="#222" stroke-width="0.22" >90</text>
<text transform="translate(275.20,277.80) rotate(-90)" font-size="7.95" text-anchor="middle" font-weight="bold" fill="#111" stroke="#111" stroke-width="0.14">Mean tumor volume (mm<tspan font-size="5.5" dy="-3">3</tspan><tspan dy="3">) ± SEM</tspan></text>
<text x="410.70" y="363.90" font-size="9.35" text-anchor="middle" font-weight="bold" fill="#111" stroke="#111" stroke-width="0.14" >Treatment (days)</text>
<line x1="304.20" y1="358.40" x2="304.20" y2="363.90" stroke="#111" stroke-width="1.8" />
<polygon points="301.70,358.90 306.70,358.90 304.20,353.10" fill="#111"/>
<polyline points="303.50,327.50 309.20,325.50 319.60,322.80 324.40,318.80 334.60,315.00 339.20,312.20 342.90,310.00 349.90,305.80 357.10,301.50 366.80,293.90 374.00,289.70 382.50,282.50 389.70,277.00 401.50,269.80 409.10,266.80 416.30,257.10 422.70,254.10 432.40,244.40" stroke="#111" stroke-width="1.1" fill="none" />
<polyline points="303.40,329.00 306.20,331.00 310.40,332.60 326.50,335.00 334.60,335.00 338.20,334.70 342.70,334.70 350.80,335.00 357.70,335.00 366.90,333.60 373.80,333.50 382.60,331.50 389.50,331.20 401.50,330.60 408.50,330.10 415.40,329.40 422.70,327.50 432.40,324.80 448.00,320.60 469.20,312.10 481.00,300.30 497.10,283.80" stroke="#111" stroke-width="1.1" fill="none" />
<polyline points="303.40,329.00 307.60,330.50 311.80,333.00 319.60,338.50 325.40,338.50 332.30,338.50 336.90,338.50 341.50,338.50 348.50,338.50 356.50,338.50 365.80,338.50 373.80,338.50 381.90,338.50 390.00,338.50 401.50,338.50 408.50,338.50 416.50,338.50 422.70,338.50 432.40,338.50 448.00,338.50 469.20,338.50 481.00,338.50 497.10,338.50" stroke="#111" stroke-width="1.0" fill="none" />
<polyline points="303.40,329.00 307.60,331.00 311.80,334.00 319.60,338.80 325.40,338.80 332.30,338.80 336.90,338.80 341.50,338.80 348.50,338.80 356.50,338.80 365.80,338.80 373.80,338.80 381.90,338.80 390.00,338.80 401.50,338.80 408.50,338.80 416.50,338.80 422.70,338.80 432.40,338.80 448.00,338.80 469.20,338.80 481.00,338.80 497.10,338.80" stroke="#111" stroke-width="1.0" fill="none" />
<line x1="366.80" y1="289.00" x2="366.80" y2="298.00" stroke="#111" stroke-width="1.1" />
<line x1="364.50" y1="289.00" x2="369.10" y2="289.00" stroke="#111" stroke-width="1.1" />
<line x1="364.50" y1="298.00" x2="369.10" y2="298.00" stroke="#111" stroke-width="1.1" />
<line x1="374.00" y1="285.00" x2="374.00" y2="294.00" stroke="#111" stroke-width="1.1" />
<line x1="371.70" y1="285.00" x2="376.30" y2="285.00" stroke="#111" stroke-width="1.1" />
<line x1="371.70" y1="294.00" x2="376.30" y2="294.00" stroke="#111" stroke-width="1.1" />
<line x1="382.50" y1="277.00" x2="382.50" y2="287.00" stroke="#111" stroke-width="1.1" />
<line x1="380.20" y1="277.00" x2="384.80" y2="277.00" stroke="#111" stroke-width="1.1" />
<line x1="380.20" y1="287.00" x2="384.80" y2="287.00" stroke="#111" stroke-width="1.1" />
<line x1="389.70" y1="271.00" x2="389.70" y2="283.00" stroke="#111" stroke-width="1.1" />
<line x1="387.40" y1="271.00" x2="392.00" y2="271.00" stroke="#111" stroke-width="1.1" />
<line x1="387.40" y1="283.00" x2="392.00" y2="283.00" stroke="#111" stroke-width="1.1" />
<line x1="401.50" y1="264.00" x2="401.50" y2="275.00" stroke="#111" stroke-width="1.1" />
<line x1="399.20" y1="264.00" x2="403.80" y2="264.00" stroke="#111" stroke-width="1.1" />
<line x1="399.20" y1="275.00" x2="403.80" y2="275.00" stroke="#111" stroke-width="1.1" />
<line x1="409.10" y1="261.00" x2="409.10" y2="272.00" stroke="#111" stroke-width="1.1" />
<line x1="406.80" y1="261.00" x2="411.40" y2="261.00" stroke="#111" stroke-width="1.1" />
<line x1="406.80" y1="272.00" x2="411.40" y2="272.00" stroke="#111" stroke-width="1.1" />
<line x1="416.30" y1="250.00" x2="416.30" y2="264.00" stroke="#111" stroke-width="1.1" />
<line x1="414.00" y1="250.00" x2="418.60" y2="250.00" stroke="#111" stroke-width="1.1" />
<line x1="414.00" y1="264.00" x2="418.60" y2="264.00" stroke="#111" stroke-width="1.1" />
<line x1="422.70" y1="246.00" x2="422.70" y2="262.00" stroke="#111" stroke-width="1.1" />
<line x1="420.40" y1="246.00" x2="425.00" y2="246.00" stroke="#111" stroke-width="1.1" />
<line x1="420.40" y1="262.00" x2="425.00" y2="262.00" stroke="#111" stroke-width="1.1" />
<line x1="432.40" y1="235.00" x2="432.40" y2="252.00" stroke="#111" stroke-width="1.1" />
<line x1="430.10" y1="235.00" x2="434.70" y2="235.00" stroke="#111" stroke-width="1.1" />
<line x1="430.10" y1="252.00" x2="434.70" y2="252.00" stroke="#111" stroke-width="1.1" />
<line x1="448.00" y1="317.00" x2="448.00" y2="325.00" stroke="#111" stroke-width="1.1" />
<line x1="445.70" y1="317.00" x2="450.30" y2="317.00" stroke="#111" stroke-width="1.1" />
<line x1="445.70" y1="325.00" x2="450.30" y2="325.00" stroke="#111" stroke-width="1.1" />
<line x1="469.20" y1="305.00" x2="469.20" y2="319.00" stroke="#111" stroke-width="1.1" />
<line x1="466.90" y1="305.00" x2="471.50" y2="305.00" stroke="#111" stroke-width="1.1" />
<line x1="466.90" y1="319.00" x2="471.50" y2="319.00" stroke="#111" stroke-width="1.1" />
<line x1="481.00" y1="286.00" x2="481.00" y2="314.00" stroke="#111" stroke-width="1.1" />
<line x1="478.70" y1="286.00" x2="483.30" y2="286.00" stroke="#111" stroke-width="1.1" />
<line x1="478.70" y1="314.00" x2="483.30" y2="314.00" stroke="#111" stroke-width="1.1" />
<line x1="497.10" y1="270.00" x2="497.10" y2="299.00" stroke="#111" stroke-width="1.1" />
<line x1="494.80" y1="270.00" x2="499.40" y2="270.00" stroke="#111" stroke-width="1.1" />
<line x1="494.80" y1="299.00" x2="499.40" y2="299.00" stroke="#111" stroke-width="1.1" />
<line x1="432.40" y1="321.00" x2="432.40" y2="329.00" stroke="#111" stroke-width="1.1" />
<line x1="430.10" y1="321.00" x2="434.70" y2="321.00" stroke="#111" stroke-width="1.1" />
<line x1="430.10" y1="329.00" x2="434.70" y2="329.00" stroke="#111" stroke-width="1.1" />
<rect x="300.80" y="325.80" width="5.20" height="5.20" fill="#111" stroke="#111" stroke-width="0.5"/>
<rect x="305.00" y="327.80" width="5.20" height="5.20" fill="#111" stroke="#111" stroke-width="0.5"/>
<rect x="309.20" y="330.80" width="5.20" height="5.20" fill="#111" stroke="#111" stroke-width="0.5"/>
<rect x="317.00" y="335.60" width="5.20" height="5.20" fill="#111" stroke="#111" stroke-width="0.5"/>
<rect x="322.80" y="335.60" width="5.20" height="5.20" fill="#111" stroke="#111" stroke-width="0.5"/>
<rect x="329.70" y="335.60" width="5.20" height="5.20" fill="#111" stroke="#111" stroke-width="0.5"/>
<rect x="334.30" y="335.60" width="5.20" height="5.20" fill="#111" stroke="#111" stroke-width="0.5"/>
<rect x="338.90" y="335.60" width="5.20" height="5.20" fill="#111" stroke="#111" stroke-width="0.5"/>
<rect x="345.90" y="335.60" width="5.20" height="5.20" fill="#111" stroke="#111" stroke-width="0.5"/>
<rect x="353.90" y="335.60" width="5.20" height="5.20" fill="#111" stroke="#111" stroke-width="0.5"/>
<rect x="363.20" y="335.60" width="5.20" height="5.20" fill="#111" stroke="#111" stroke-width="0.5"/>
<rect x="371.20" y="335.60" width="5.20" height="5.20" fill="#111" stroke="#111" stroke-width="0.5"/>
<rect x="379.30" y="335.60" width="5.20" height="5.20" fill="#111" stroke="#111" stroke-width="0.5"/>
<rect x="387.40" y="335.60" width="5.20" height="5.20" fill="#111" stroke="#111" stroke-width="0.5"/>
<rect x="398.90" y="335.60" width="5.20" height="5.20" fill="#111" stroke="#111" stroke-width="0.5"/>
<rect x="405.90" y="335.60" width="5.20" height="5.20" fill="#111" stroke="#111" stroke-width="0.5"/>
<rect x="413.90" y="335.60" width="5.20" height="5.20" fill="#111" stroke="#111" stroke-width="0.5"/>
<rect x="420.10" y="335.60" width="5.20" height="5.20" fill="#111" stroke="#111" stroke-width="0.5"/>
<rect x="429.80" y="335.60" width="5.20" height="5.20" fill="#111" stroke="#111" stroke-width="0.5"/>
<rect x="445.40" y="335.60" width="5.20" height="5.20" fill="#111" stroke="#111" stroke-width="0.5"/>
<rect x="466.60" y="335.60" width="5.20" height="5.20" fill="#111" stroke="#111" stroke-width="0.5"/>
<rect x="478.40" y="335.60" width="5.20" height="5.20" fill="#111" stroke="#111" stroke-width="0.5"/>
<rect x="494.50" y="335.60" width="5.20" height="5.20" fill="#111" stroke="#111" stroke-width="0.5"/>
<polygon points="300.52,331.16 306.27,331.16 303.40,325.98" fill="#fff" stroke="#111" stroke-width="0.9" stroke-linejoin="miter"/>
<polygon points="304.73,332.66 310.48,332.66 307.60,327.48" fill="#fff" stroke="#111" stroke-width="0.9" stroke-linejoin="miter"/>
<polygon points="308.93,335.16 314.68,335.16 311.80,329.98" fill="#fff" stroke="#111" stroke-width="0.9" stroke-linejoin="miter"/>
<polygon points="316.73,340.66 322.48,340.66 319.60,335.48" fill="#fff" stroke="#111" stroke-width="0.9" stroke-linejoin="miter"/>
<polygon points="322.52,340.66 328.27,340.66 325.40,335.48" fill="#fff" stroke="#111" stroke-width="0.9" stroke-linejoin="miter"/>
<polygon points="329.43,340.66 335.18,340.66 332.30,335.48" fill="#fff" stroke="#111" stroke-width="0.9" stroke-linejoin="miter"/>
<polygon points="334.02,340.66 339.77,340.66 336.90,335.48" fill="#fff" stroke="#111" stroke-width="0.9" stroke-linejoin="miter"/>
<polygon points="338.62,340.66 344.38,340.66 341.50,335.48" fill="#fff" stroke="#111" stroke-width="0.9" stroke-linejoin="miter"/>
<polygon points="345.62,340.66 351.38,340.66 348.50,335.48" fill="#fff" stroke="#111" stroke-width="0.9" stroke-linejoin="miter"/>
<polygon points="353.62,340.66 359.38,340.66 356.50,335.48" fill="#fff" stroke="#111" stroke-width="0.9" stroke-linejoin="miter"/>
<polygon points="362.93,340.66 368.68,340.66 365.80,335.48" fill="#fff" stroke="#111" stroke-width="0.9" stroke-linejoin="miter"/>
<polygon points="370.93,340.66 376.68,340.66 373.80,335.48" fill="#fff" stroke="#111" stroke-width="0.9" stroke-linejoin="miter"/>
<polygon points="379.02,340.66 384.77,340.66 381.90,335.48" fill="#fff" stroke="#111" stroke-width="0.9" stroke-linejoin="miter"/>
<polygon points="387.12,340.66 392.88,340.66 390.00,335.48" fill="#fff" stroke="#111" stroke-width="0.9" stroke-linejoin="miter"/>
<polygon points="398.62,340.66 404.38,340.66 401.50,335.48" fill="#fff" stroke="#111" stroke-width="0.9" stroke-linejoin="miter"/>
<polygon points="405.62,340.66 411.38,340.66 408.50,335.48" fill="#fff" stroke="#111" stroke-width="0.9" stroke-linejoin="miter"/>
<polygon points="413.62,340.66 419.38,340.66 416.50,335.48" fill="#fff" stroke="#111" stroke-width="0.9" stroke-linejoin="miter"/>
<polygon points="419.82,340.66 425.57,340.66 422.70,335.48" fill="#fff" stroke="#111" stroke-width="0.9" stroke-linejoin="miter"/>
<polygon points="429.52,340.66 435.27,340.66 432.40,335.48" fill="#fff" stroke="#111" stroke-width="0.9" stroke-linejoin="miter"/>
<polygon points="445.12,340.66 450.88,340.66 448.00,335.48" fill="#fff" stroke="#111" stroke-width="0.9" stroke-linejoin="miter"/>
<polygon points="466.32,340.66 472.07,340.66 469.20,335.48" fill="#fff" stroke="#111" stroke-width="0.9" stroke-linejoin="miter"/>
<polygon points="478.12,340.66 483.88,340.66 481.00,335.48" fill="#fff" stroke="#111" stroke-width="0.9" stroke-linejoin="miter"/>
<polygon points="494.23,340.66 499.98,340.66 497.10,335.48" fill="#fff" stroke="#111" stroke-width="0.9" stroke-linejoin="miter"/>
<circle cx="303.40" cy="329.00" r="2.80" fill="#111" stroke="#111" stroke-width="0.5"/>
<circle cx="306.20" cy="331.00" r="2.80" fill="#111" stroke="#111" stroke-width="0.5"/>
<circle cx="310.40" cy="332.60" r="2.80" fill="#111" stroke="#111" stroke-width="0.5"/>
<circle cx="326.50" cy="335.00" r="2.80" fill="#111" stroke="#111" stroke-width="0.5"/>
<circle cx="334.60" cy="335.00" r="2.80" fill="#111" stroke="#111" stroke-width="0.5"/>
<circle cx="338.20" cy="334.70" r="2.80" fill="#111" stroke="#111" stroke-width="0.5"/>
<circle cx="342.70" cy="334.70" r="2.80" fill="#111" stroke="#111" stroke-width="0.5"/>
<circle cx="350.80" cy="335.00" r="2.80" fill="#111" stroke="#111" stroke-width="0.5"/>
<circle cx="357.70" cy="335.00" r="2.80" fill="#111" stroke="#111" stroke-width="0.5"/>
<circle cx="366.90" cy="333.60" r="2.80" fill="#111" stroke="#111" stroke-width="0.5"/>
<circle cx="373.80" cy="333.50" r="2.80" fill="#111" stroke="#111" stroke-width="0.5"/>
<circle cx="382.60" cy="331.50" r="2.80" fill="#111" stroke="#111" stroke-width="0.5"/>
<circle cx="389.50" cy="331.20" r="2.80" fill="#111" stroke="#111" stroke-width="0.5"/>
<circle cx="401.50" cy="330.60" r="2.80" fill="#111" stroke="#111" stroke-width="0.5"/>
<circle cx="408.50" cy="330.10" r="2.80" fill="#111" stroke="#111" stroke-width="0.5"/>
<circle cx="415.40" cy="329.40" r="2.80" fill="#111" stroke="#111" stroke-width="0.5"/>
<circle cx="422.70" cy="327.50" r="2.80" fill="#111" stroke="#111" stroke-width="0.5"/>
<circle cx="432.40" cy="324.80" r="2.80" fill="#111" stroke="#111" stroke-width="0.5"/>
<circle cx="448.00" cy="320.60" r="2.80" fill="#111" stroke="#111" stroke-width="0.5"/>
<circle cx="469.20" cy="312.10" r="2.80" fill="#111" stroke="#111" stroke-width="0.5"/>
<circle cx="481.00" cy="300.30" r="2.80" fill="#111" stroke="#111" stroke-width="0.5"/>
<circle cx="497.10" cy="283.80" r="2.80" fill="#111" stroke="#111" stroke-width="0.5"/>
<polygon points="300.39,325.17 306.61,325.17 303.50,330.76" fill="#111" stroke="#111" stroke-width="0.5" stroke-linejoin="miter"/>
<polygon points="306.09,323.17 312.31,323.17 309.20,328.76" fill="#111" stroke="#111" stroke-width="0.5" stroke-linejoin="miter"/>
<polygon points="316.50,320.47 322.71,320.47 319.60,326.06" fill="#111" stroke="#111" stroke-width="0.5" stroke-linejoin="miter"/>
<polygon points="321.29,316.47 327.50,316.47 324.40,322.06" fill="#111" stroke="#111" stroke-width="0.5" stroke-linejoin="miter"/>
<polygon points="331.50,312.67 337.71,312.67 334.60,318.26" fill="#111" stroke="#111" stroke-width="0.5" stroke-linejoin="miter"/>
<polygon points="336.09,309.87 342.31,309.87 339.20,315.46" fill="#111" stroke="#111" stroke-width="0.5" stroke-linejoin="miter"/>
<polygon points="339.79,307.67 346.00,307.67 342.90,313.26" fill="#111" stroke="#111" stroke-width="0.5" stroke-linejoin="miter"/>
<polygon points="346.79,303.47 353.00,303.47 349.90,309.06" fill="#111" stroke="#111" stroke-width="0.5" stroke-linejoin="miter"/>
<polygon points="354.00,299.17 360.21,299.17 357.10,304.76" fill="#111" stroke="#111" stroke-width="0.5" stroke-linejoin="miter"/>
<polygon points="363.69,291.57 369.91,291.57 366.80,297.16" fill="#111" stroke="#111" stroke-width="0.5" stroke-linejoin="miter"/>
<polygon points="370.89,287.37 377.11,287.37 374.00,292.96" fill="#111" stroke="#111" stroke-width="0.5" stroke-linejoin="miter"/>
<polygon points="379.39,280.17 385.61,280.17 382.50,285.76" fill="#111" stroke="#111" stroke-width="0.5" stroke-linejoin="miter"/>
<polygon points="386.59,274.67 392.81,274.67 389.70,280.26" fill="#111" stroke="#111" stroke-width="0.5" stroke-linejoin="miter"/>
<polygon points="398.39,267.47 404.61,267.47 401.50,273.06" fill="#111" stroke="#111" stroke-width="0.5" stroke-linejoin="miter"/>
<polygon points="406.00,264.47 412.21,264.47 409.10,270.06" fill="#111" stroke="#111" stroke-width="0.5" stroke-linejoin="miter"/>
<polygon points="413.19,254.77 419.41,254.77 416.30,260.36" fill="#111" stroke="#111" stroke-width="0.5" stroke-linejoin="miter"/>
<polygon points="419.59,251.77 425.81,251.77 422.70,257.36" fill="#111" stroke="#111" stroke-width="0.5" stroke-linejoin="miter"/>
<polygon points="429.29,242.07 435.50,242.07 432.40,247.66" fill="#111" stroke="#111" stroke-width="0.5" stroke-linejoin="miter"/>
<line x1="308.10" y1="375.30" x2="318.10" y2="375.30" stroke="#111" stroke-width="1.0" />
<polygon points="310.23,373.14 315.98,373.14 313.10,378.32" fill="#111" stroke="#111" stroke-width="0.9" stroke-linejoin="miter"/>
<text x="323.00" y="377.70" font-size="7" text-anchor="start" font-weight="normal" fill="#222" stroke="#222" stroke-width="0.22" >No treat</text>
<line x1="308.10" y1="385.50" x2="318.10" y2="385.50" stroke="#111" stroke-width="1.0" />
<circle cx="313.10" cy="385.50" r="2.50" fill="#111" stroke="#111" stroke-width="0.9"/>
<text x="323.00" y="387.90" font-size="7" text-anchor="start" font-weight="normal" fill="#222" stroke="#222" stroke-width="0.22" >NJH395 1 mg/kg</text>
<line x1="391.60" y1="375.30" x2="401.60" y2="375.30" stroke="#111" stroke-width="1.0" />
<polygon points="393.73,377.46 399.48,377.46 396.60,372.28" fill="#111" stroke="#111" stroke-width="0.9" stroke-linejoin="miter"/>
<text x="405.40" y="377.70" font-size="7" text-anchor="start" font-weight="normal" fill="#222" stroke="#222" stroke-width="0.22" >NJH395 3 mg/kg</text>
<line x1="391.60" y1="385.10" x2="401.60" y2="385.10" stroke="#111" stroke-width="1.0" />
<rect x="394.10" y="382.60" width="5.00" height="5.00" fill="#111" stroke="#111" stroke-width="0.9"/>
<text x="405.40" y="387.50" font-size="7" text-anchor="start" font-weight="normal" fill="#222" stroke="#222" stroke-width="0.22" >NJH395 5 mg/kg</text>
<line x1="478.20" y1="376.50" x2="478.20" y2="381.30" stroke="#111" stroke-width="1.8" />
<polygon points="475.70,377.00 480.70,377.00 478.20,371.20" fill="#111"/>
<text x="485.80" y="377.80" font-size="7" text-anchor="start" font-weight="normal" fill="#222" stroke="#222" stroke-width="0.22" >Dose</text>
<line x1="46.40" y1="548.70" x2="46.40" y2="422.72" stroke="#555" stroke-width="1.1" />
<line x1="46.40" y1="548.20" x2="250.40" y2="548.20" stroke="#555" stroke-width="1.1" />
<line x1="42.90" y1="548.30" x2="46.40" y2="548.30" stroke="#555" stroke-width="1" />
<text x="41.20" y="550.70" font-size="7" text-anchor="end" font-weight="normal" fill="#222" stroke="#222" stroke-width="0.22" >0</text>
<line x1="42.90" y1="506.44" x2="46.40" y2="506.44" stroke="#555" stroke-width="1" />
<text x="41.20" y="508.84" font-size="7" text-anchor="end" font-weight="normal" fill="#222" stroke="#222" stroke-width="0.22" >200</text>
<line x1="42.90" y1="464.58" x2="46.40" y2="464.58" stroke="#555" stroke-width="1" />
<text x="41.20" y="466.98" font-size="7" text-anchor="end" font-weight="normal" fill="#222" stroke="#222" stroke-width="0.22" >400</text>
<line x1="42.90" y1="422.72" x2="46.40" y2="422.72" stroke="#555" stroke-width="1" />
<text x="41.20" y="425.12" font-size="7" text-anchor="end" font-weight="normal" fill="#222" stroke="#222" stroke-width="0.22" >600</text>
<line x1="47.10" y1="548.20" x2="47.10" y2="551.20" stroke="#555" stroke-width="1" />
<text x="47.10" y="558.90" font-size="7" text-anchor="middle" font-weight="normal" fill="#222" stroke="#222" stroke-width="0.22" >0</text>
<line x1="61.60" y1="548.20" x2="61.60" y2="551.20" stroke="#555" stroke-width="1" />
<text x="61.60" y="558.90" font-size="7" text-anchor="middle" font-weight="normal" fill="#222" stroke="#222" stroke-width="0.22" >5</text>
<line x1="76.10" y1="548.20" x2="76.10" y2="551.20" stroke="#555" stroke-width="1" />
<text x="76.10" y="558.90" font-size="7" text-anchor="middle" font-weight="normal" fill="#222" stroke="#222" stroke-width="0.22" >10</text>
<line x1="90.60" y1="548.20" x2="90.60" y2="551.20" stroke="#555" stroke-width="1" />
<text x="90.60" y="558.90" font-size="7" text-anchor="middle" font-weight="normal" fill="#222" stroke="#222" stroke-width="0.22" >15</text>
<line x1="105.10" y1="548.20" x2="105.10" y2="551.20" stroke="#555" stroke-width="1" />
<text x="105.10" y="558.90" font-size="7" text-anchor="middle" font-weight="normal" fill="#222" stroke="#222" stroke-width="0.22" >20</text>
<line x1="119.60" y1="548.20" x2="119.60" y2="551.20" stroke="#555" stroke-width="1" />
<text x="119.60" y="558.90" font-size="7" text-anchor="middle" font-weight="normal" fill="#222" stroke="#222" stroke-width="0.22" >25</text>
<line x1="134.10" y1="548.20" x2="134.10" y2="551.20" stroke="#555" stroke-width="1" />
<text x="134.10" y="558.90" font-size="7" text-anchor="middle" font-weight="normal" fill="#222" stroke="#222" stroke-width="0.22" >30</text>
<line x1="148.60" y1="548.20" x2="148.60" y2="551.20" stroke="#555" stroke-width="1" />
<text x="148.60" y="558.90" font-size="7" text-anchor="middle" font-weight="normal" fill="#222" stroke="#222" stroke-width="0.22" >35</text>
<line x1="163.10" y1="548.20" x2="163.10" y2="551.20" stroke="#555" stroke-width="1" />
<text x="163.10" y="558.90" font-size="7" text-anchor="middle" font-weight="normal" fill="#222" stroke="#222" stroke-width="0.22" >40</text>
<line x1="177.60" y1="548.20" x2="177.60" y2="551.20" stroke="#555" stroke-width="1" />
<text x="177.60" y="558.90" font-size="7" text-anchor="middle" font-weight="normal" fill="#222" stroke="#222" stroke-width="0.22" >45</text>
<line x1="192.10" y1="548.20" x2="192.10" y2="551.20" stroke="#555" stroke-width="1" />
<text x="192.10" y="558.90" font-size="7" text-anchor="middle" font-weight="normal" fill="#222" stroke="#222" stroke-width="0.22" >50</text>
<line x1="206.60" y1="548.20" x2="206.60" y2="551.20" stroke="#555" stroke-width="1" />
<text x="206.60" y="558.90" font-size="7" text-anchor="middle" font-weight="normal" fill="#222" stroke="#222" stroke-width="0.22" >55</text>
<line x1="221.10" y1="548.20" x2="221.10" y2="551.20" stroke="#555" stroke-width="1" />
<text x="221.10" y="558.90" font-size="7" text-anchor="middle" font-weight="normal" fill="#222" stroke="#222" stroke-width="0.22" >60</text>
<line x1="235.60" y1="548.20" x2="235.60" y2="551.20" stroke="#555" stroke-width="1" />
<text x="235.60" y="558.90" font-size="7" text-anchor="middle" font-weight="normal" fill="#222" stroke="#222" stroke-width="0.22" >65</text>
<line x1="250.10" y1="548.20" x2="250.10" y2="551.20" stroke="#555" stroke-width="1" />
<text x="250.10" y="558.90" font-size="7" text-anchor="middle" font-weight="normal" fill="#222" stroke="#222" stroke-width="0.22" >70</text>
<text transform="translate(14.30,486.00) rotate(-90)" font-size="7.95" text-anchor="middle" font-weight="bold" fill="#111" stroke="#111" stroke-width="0.14">Mean tumor volume (mm<tspan font-size="5.5" dy="-3">3</tspan><tspan dy="3">) ± SEM</tspan></text>
<text x="151.70" y="572.70" font-size="9.45" text-anchor="middle" font-weight="bold" fill="#111" stroke="#111" stroke-width="0.14" >Treatment (days)</text>
<line x1="50.60" y1="568.74" x2="50.60" y2="573.00" stroke="#111" stroke-width="1.8" />
<polygon points="48.10,569.24 53.10,569.24 50.60,563.60" fill="#111"/>
<polyline points="50.00,505.00 55.80,503.00 61.60,500.50 70.30,490.00 76.10,490.00 81.90,485.50 90.60,478.00 96.40,472.50" stroke="#111" stroke-width="0.9" fill="none" />
<polyline points="50.00,506.20 55.80,506.00 61.60,501.00 70.30,494.00 76.10,492.70 81.90,483.70 90.60,475.00 96.40,469.20" stroke="#111" stroke-width="0.9" fill="none" />
<polyline points="50.00,507.00 55.80,507.00 61.60,506.30 70.30,497.00 76.10,498.00 81.90,488.50 90.60,489.40 96.40,478.80" stroke="#111" stroke-width="0.9" fill="none" />
<polyline points="50.00,513.50 55.80,513.50 61.60,525.00 70.30,531.70 76.10,534.60 81.90,534.00 90.60,533.00 96.40,527.90" stroke="#111" stroke-width="0.9" fill="none" />
<polyline points="50.00,516.30 55.80,515.00 61.60,518.30 70.30,533.50 76.10,540.40 81.90,540.40 90.60,545.60 96.40,545.60" stroke="#111" stroke-width="0.9" fill="none" />
<polyline points="50.00,512.00 55.80,513.00 61.60,522.00 70.30,535.60 76.10,540.00 81.90,543.70 90.60,546.50 96.40,548.00 131.20,548.00 250.10,548.00" stroke="#555" stroke-width="0.9" fill="none" />
<line x1="50.00" y1="500.00" x2="50.00" y2="513.00" stroke="#111" stroke-width="1.0" />
<line x1="47.90" y1="500.00" x2="52.10" y2="500.00" stroke="#111" stroke-width="1.0" />
<line x1="47.90" y1="513.00" x2="52.10" y2="513.00" stroke="#111" stroke-width="1.0" />
<line x1="61.60" y1="497.00" x2="61.60" y2="505.00" stroke="#111" stroke-width="1.0" />
<line x1="59.50" y1="497.00" x2="63.70" y2="497.00" stroke="#111" stroke-width="1.0" />
<line x1="59.50" y1="505.00" x2="63.70" y2="505.00" stroke="#111" stroke-width="1.0" />
<line x1="70.30" y1="485.00" x2="70.30" y2="498.00" stroke="#111" stroke-width="1.0" />
<line x1="68.20" y1="485.00" x2="72.40" y2="485.00" stroke="#111" stroke-width="1.0" />
<line x1="68.20" y1="498.00" x2="72.40" y2="498.00" stroke="#111" stroke-width="1.0" />
<line x1="81.90" y1="478.00" x2="81.90" y2="490.00" stroke="#111" stroke-width="1.0" />
<line x1="79.80" y1="478.00" x2="84.00" y2="478.00" stroke="#111" stroke-width="1.0" />
<line x1="79.80" y1="490.00" x2="84.00" y2="490.00" stroke="#111" stroke-width="1.0" />
<line x1="90.60" y1="465.00" x2="90.60" y2="484.00" stroke="#111" stroke-width="1.0" />
<line x1="88.50" y1="465.00" x2="92.70" y2="465.00" stroke="#111" stroke-width="1.0" />
<line x1="88.50" y1="484.00" x2="92.70" y2="484.00" stroke="#111" stroke-width="1.0" />
<line x1="96.40" y1="462.00" x2="96.40" y2="476.00" stroke="#111" stroke-width="1.0" />
<line x1="94.30" y1="462.00" x2="98.50" y2="462.00" stroke="#111" stroke-width="1.0" />
<line x1="94.30" y1="476.00" x2="98.50" y2="476.00" stroke="#111" stroke-width="1.0" />
<line x1="50.00" y1="509.00" x2="50.00" y2="522.00" stroke="#111" stroke-width="1.0" />
<line x1="47.90" y1="509.00" x2="52.10" y2="509.00" stroke="#111" stroke-width="1.0" />
<line x1="47.90" y1="522.00" x2="52.10" y2="522.00" stroke="#111" stroke-width="1.0" />
<line x1="70.30" y1="527.00" x2="70.30" y2="537.00" stroke="#111" stroke-width="1.0" />
<line x1="68.20" y1="527.00" x2="72.40" y2="527.00" stroke="#111" stroke-width="1.0" />
<line x1="68.20" y1="537.00" x2="72.40" y2="537.00" stroke="#111" stroke-width="1.0" />
<line x1="96.40" y1="523.00" x2="96.40" y2="532.00" stroke="#111" stroke-width="1.0" />
<line x1="94.30" y1="523.00" x2="98.50" y2="523.00" stroke="#111" stroke-width="1.0" />
<line x1="94.30" y1="532.00" x2="98.50" y2="532.00" stroke="#111" stroke-width="1.0" />
<polygon points="47.24,514.07 52.76,514.07 50.00,509.10" fill="#fff" stroke="#111" stroke-width="0.9" stroke-linejoin="miter"/>
<polygon points="53.04,515.07 58.56,515.07 55.80,510.10" fill="#fff" stroke="#111" stroke-width="0.9" stroke-linejoin="miter"/>
<polygon points="58.84,524.07 64.36,524.07 61.60,519.10" fill="#fff" stroke="#111" stroke-width="0.9" stroke-linejoin="miter"/>
<polygon points="67.54,537.67 73.06,537.67 70.30,532.70" fill="#fff" stroke="#111" stroke-width="0.9" stroke-linejoin="miter"/>
<polygon points="73.34,542.07 78.86,542.07 76.10,537.10" fill="#fff" stroke="#111" stroke-width="0.9" stroke-linejoin="miter"/>
<polygon points="79.14,545.77 84.66,545.77 81.90,540.80" fill="#fff" stroke="#111" stroke-width="0.9" stroke-linejoin="miter"/>
<polygon points="87.84,548.57 93.36,548.57 90.60,543.60" fill="#fff" stroke="#111" stroke-width="0.9" stroke-linejoin="miter"/>
<polygon points="93.64,550.07 99.16,550.07 96.40,545.10" fill="#fff" stroke="#111" stroke-width="0.9" stroke-linejoin="miter"/>
<polygon points="47.24,502.93 52.76,502.93 50.00,507.90" fill="#fff" stroke="#111" stroke-width="0.9" stroke-linejoin="miter"/>
<polygon points="53.04,500.93 58.56,500.93 55.80,505.90" fill="#fff" stroke="#111" stroke-width="0.9" stroke-linejoin="miter"/>
<polygon points="58.84,498.43 64.36,498.43 61.60,503.40" fill="#fff" stroke="#111" stroke-width="0.9" stroke-linejoin="miter"/>
<polygon points="67.54,487.93 73.06,487.93 70.30,492.90" fill="#fff" stroke="#111" stroke-width="0.9" stroke-linejoin="miter"/>
<polygon points="73.34,487.93 78.86,487.93 76.10,492.90" fill="#fff" stroke="#111" stroke-width="0.9" stroke-linejoin="miter"/>
<polygon points="79.14,483.43 84.66,483.43 81.90,488.40" fill="#fff" stroke="#111" stroke-width="0.9" stroke-linejoin="miter"/>
<polygon points="87.84,475.93 93.36,475.93 90.60,480.90" fill="#fff" stroke="#111" stroke-width="0.9" stroke-linejoin="miter"/>
<polygon points="93.64,470.43 99.16,470.43 96.40,475.40" fill="#fff" stroke="#111" stroke-width="0.9" stroke-linejoin="miter"/>
<circle cx="50.00" cy="506.20" r="2.60" fill="#fff" stroke="#111" stroke-width="0.9"/>
<circle cx="55.80" cy="506.00" r="2.60" fill="#fff" stroke="#111" stroke-width="0.9"/>
<circle cx="61.60" cy="501.00" r="2.60" fill="#fff" stroke="#111" stroke-width="0.9"/>
<circle cx="70.30" cy="494.00" r="2.60" fill="#fff" stroke="#111" stroke-width="0.9"/>
<circle cx="76.10" cy="492.70" r="2.60" fill="#fff" stroke="#111" stroke-width="0.9"/>
<circle cx="81.90" cy="483.70" r="2.60" fill="#fff" stroke="#111" stroke-width="0.9"/>
<circle cx="90.60" cy="475.00" r="2.60" fill="#fff" stroke="#111" stroke-width="0.9"/>
<circle cx="96.40" cy="469.20" r="2.60" fill="#fff" stroke="#111" stroke-width="0.9"/>
<rect x="47.80" y="504.80" width="4.40" height="4.40" fill="#111" stroke="#111" stroke-width="0.5"/>
<rect x="53.60" y="504.80" width="4.40" height="4.40" fill="#111" stroke="#111" stroke-width="0.5"/>
<rect x="59.40" y="504.10" width="4.40" height="4.40" fill="#111" stroke="#111" stroke-width="0.5"/>
<rect x="68.10" y="494.80" width="4.40" height="4.40" fill="#111" stroke="#111" stroke-width="0.5"/>
<rect x="73.90" y="495.80" width="4.40" height="4.40" fill="#111" stroke="#111" stroke-width="0.5"/>
<rect x="79.70" y="486.30" width="4.40" height="4.40" fill="#111" stroke="#111" stroke-width="0.5"/>
<rect x="88.40" y="487.20" width="4.40" height="4.40" fill="#111" stroke="#111" stroke-width="0.5"/>
<rect x="94.20" y="476.60" width="4.40" height="4.40" fill="#111" stroke="#111" stroke-width="0.5"/>
<circle cx="50.00" cy="513.50" r="2.50" fill="#111" stroke="#111" stroke-width="0.5"/>
<circle cx="55.80" cy="513.50" r="2.50" fill="#111" stroke="#111" stroke-width="0.5"/>
<circle cx="61.60" cy="525.00" r="2.50" fill="#111" stroke="#111" stroke-width="0.5"/>
<circle cx="70.30" cy="531.70" r="2.50" fill="#111" stroke="#111" stroke-width="0.5"/>
<circle cx="76.10" cy="534.60" r="2.50" fill="#111" stroke="#111" stroke-width="0.5"/>
<circle cx="81.90" cy="534.00" r="2.50" fill="#111" stroke="#111" stroke-width="0.5"/>
<circle cx="90.60" cy="533.00" r="2.50" fill="#111" stroke="#111" stroke-width="0.5"/>
<circle cx="96.40" cy="527.90" r="2.50" fill="#111" stroke="#111" stroke-width="0.5"/>
<polygon points="50.00,513.67 52.62,516.30 50.00,518.92 47.38,516.30" fill="#111" stroke="#111" stroke-width="0.5"/>
<polygon points="55.80,512.38 58.42,515.00 55.80,517.62 53.17,515.00" fill="#111" stroke="#111" stroke-width="0.5"/>
<polygon points="61.60,515.67 64.22,518.30 61.60,520.92 58.98,518.30" fill="#111" stroke="#111" stroke-width="0.5"/>
<polygon points="70.30,530.88 72.92,533.50 70.30,536.12 67.67,533.50" fill="#111" stroke="#111" stroke-width="0.5"/>
<polygon points="76.10,537.77 78.72,540.40 76.10,543.02 73.47,540.40" fill="#111" stroke="#111" stroke-width="0.5"/>
<polygon points="81.90,537.77 84.53,540.40 81.90,543.02 79.28,540.40" fill="#111" stroke="#111" stroke-width="0.5"/>
<polygon points="90.60,542.98 93.22,545.60 90.60,548.23 87.97,545.60" fill="#111" stroke="#111" stroke-width="0.5"/>
<polygon points="96.40,542.98 99.03,545.60 96.40,548.23 93.78,545.60" fill="#111" stroke="#111" stroke-width="0.5"/>
<polygon points="128.44,550.07 133.96,550.07 131.20,545.10" fill="#fff" stroke="#111" stroke-width="0.9" stroke-linejoin="miter"/>
<polygon points="148.74,550.07 154.26,550.07 151.50,545.10" fill="#fff" stroke="#111" stroke-width="0.9" stroke-linejoin="miter"/>
<polygon points="171.94,550.07 177.46,550.07 174.70,545.10" fill="#fff" stroke="#111" stroke-width="0.9" stroke-linejoin="miter"/>
<polygon points="189.34,550.07 194.86,550.07 192.10,545.10" fill="#fff" stroke="#111" stroke-width="0.9" stroke-linejoin="miter"/>
<polygon points="209.64,550.07 215.16,550.07 212.40,545.10" fill="#fff" stroke="#111" stroke-width="0.9" stroke-linejoin="miter"/>
<polygon points="238.64,550.07 244.16,550.07 241.40,545.10" fill="#fff" stroke="#111" stroke-width="0.9" stroke-linejoin="miter"/>
<line x1="50.50" y1="585.70" x2="59.50" y2="585.70" stroke="#111" stroke-width="1.0" />
<polygon points="52.12,583.54 57.88,583.54 55.00,588.72" fill="#fff" stroke="#111" stroke-width="0.9" stroke-linejoin="miter"/>
<text x="64.30" y="588.10" font-size="7" text-anchor="start" font-weight="normal" fill="#222" stroke="#222" stroke-width="0.22" >No treat</text>
<line x1="50.50" y1="595.30" x2="59.50" y2="595.30" stroke="#111" stroke-width="1.0" />
<rect x="52.50" y="592.80" width="5.00" height="5.00" fill="#111" stroke="#111" stroke-width="0.9"/>
<text x="64.30" y="597.70" font-size="7" text-anchor="start" font-weight="normal" fill="#222" stroke="#222" stroke-width="0.22" >NJH397 10 mg/kg</text>
<line x1="50.50" y1="604.50" x2="59.50" y2="604.50" stroke="#111" stroke-width="1.0" />
<circle cx="55.00" cy="604.50" r="2.50" fill="#fff" stroke="#111" stroke-width="0.9"/>
<text x="64.30" y="606.90" font-size="7" text-anchor="start" font-weight="normal" fill="#222" stroke="#222" stroke-width="0.22" >MIW338 10 mg/kg</text>
<line x1="135.50" y1="585.50" x2="144.50" y2="585.50" stroke="#111" stroke-width="1.0" />
<circle cx="140.00" cy="585.50" r="2.50" fill="#111" stroke="#111" stroke-width="0.9"/>
<text x="149.00" y="587.90" font-size="7" text-anchor="start" font-weight="normal" fill="#222" stroke="#222" stroke-width="0.22" >NJH395 1 mg/kg</text>
<line x1="135.50" y1="594.50" x2="144.50" y2="594.50" stroke="#111" stroke-width="1.0" />
<polygon points="137.12,596.66 142.88,596.66 140.00,591.48" fill="#111" stroke="#111" stroke-width="0.9" stroke-linejoin="miter"/>
<text x="149.00" y="596.90" font-size="7" text-anchor="start" font-weight="normal" fill="#222" stroke="#222" stroke-width="0.22" >NJH395 3 mg/kg</text>
<line x1="135.50" y1="604.00" x2="144.50" y2="604.00" stroke="#111" stroke-width="1.0" />
<polygon points="140.00,600.88 143.12,604.00 140.00,607.12 136.88,604.00" fill="#111" stroke="#111" stroke-width="0.9"/>
<text x="149.00" y="606.40" font-size="7" text-anchor="start" font-weight="normal" fill="#222" stroke="#222" stroke-width="0.22" >NJH395 10 mg/kg</text>
<line x1="226.40" y1="586.60" x2="226.40" y2="591.00" stroke="#111" stroke-width="1.8" />
<polygon points="223.90,587.10 228.90,587.10 226.40,581.30" fill="#111"/>
<text x="233.00" y="588.10" font-size="7" text-anchor="start" font-weight="normal" fill="#222" stroke="#222" stroke-width="0.22" >Dose</text>
<line x1="305.30" y1="548.30" x2="305.30" y2="422.70" stroke="#444" stroke-width="1.1" />
<line x1="305.30" y1="547.90" x2="509.95" y2="547.90" stroke="#444" stroke-width="1.1" />
<line x1="301.80" y1="547.90" x2="305.30" y2="547.90" stroke="#444" stroke-width="1" />
<text x="300.10" y="550.30" font-size="7" text-anchor="end" font-weight="normal" fill="#222" stroke="#222" stroke-width="0.22" >0</text>
<line x1="301.80" y1="522.86" x2="305.30" y2="522.86" stroke="#444" stroke-width="1" />
<text x="300.10" y="525.26" font-size="7" text-anchor="end" font-weight="normal" fill="#222" stroke="#222" stroke-width="0.22" >200</text>
<line x1="301.80" y1="497.82" x2="305.30" y2="497.82" stroke="#444" stroke-width="1" />
<text x="300.10" y="500.22" font-size="7" text-anchor="end" font-weight="normal" fill="#222" stroke="#222" stroke-width="0.22" >400</text>
<line x1="301.80" y1="472.78" x2="305.30" y2="472.78" stroke="#444" stroke-width="1" />
<text x="300.10" y="475.18" font-size="7" text-anchor="end" font-weight="normal" fill="#222" stroke="#222" stroke-width="0.22" >600</text>
<line x1="301.80" y1="447.74" x2="305.30" y2="447.74" stroke="#444" stroke-width="1" />
<text x="300.10" y="450.14" font-size="7" text-anchor="end" font-weight="normal" fill="#222" stroke="#222" stroke-width="0.22" >800</text>
<line x1="301.80" y1="422.70" x2="305.30" y2="422.70" stroke="#444" stroke-width="1" />
<text x="300.10" y="425.10" font-size="7" text-anchor="end" font-weight="normal" fill="#222" stroke="#222" stroke-width="0.22" >1,000</text>
<line x1="305.80" y1="547.90" x2="305.80" y2="550.90" stroke="#444" stroke-width="1" />
<text x="305.80" y="559.40" font-size="7" text-anchor="middle" font-weight="normal" fill="#222" stroke="#222" stroke-width="0.22" >0</text>
<line x1="328.45" y1="547.90" x2="328.45" y2="550.90" stroke="#444" stroke-width="1" />
<text x="328.45" y="559.40" font-size="7" text-anchor="middle" font-weight="normal" fill="#222" stroke="#222" stroke-width="0.22" >5</text>
<line x1="351.10" y1="547.90" x2="351.10" y2="550.90" stroke="#444" stroke-width="1" />
<text x="351.10" y="559.40" font-size="7" text-anchor="middle" font-weight="normal" fill="#222" stroke="#222" stroke-width="0.22" >10</text>
<line x1="373.75" y1="547.90" x2="373.75" y2="550.90" stroke="#444" stroke-width="1" />
<text x="373.75" y="559.40" font-size="7" text-anchor="middle" font-weight="normal" fill="#222" stroke="#222" stroke-width="0.22" >15</text>
<line x1="396.40" y1="547.90" x2="396.40" y2="550.90" stroke="#444" stroke-width="1" />
<text x="396.40" y="559.40" font-size="7" text-anchor="middle" font-weight="normal" fill="#222" stroke="#222" stroke-width="0.22" >20</text>
<line x1="419.05" y1="547.90" x2="419.05" y2="550.90" stroke="#444" stroke-width="1" />
<text x="419.05" y="559.40" font-size="7" text-anchor="middle" font-weight="normal" fill="#222" stroke="#222" stroke-width="0.22" >25</text>
<line x1="441.70" y1="547.90" x2="441.70" y2="550.90" stroke="#444" stroke-width="1" />
<text x="441.70" y="559.40" font-size="7" text-anchor="middle" font-weight="normal" fill="#222" stroke="#222" stroke-width="0.22" >30</text>
<line x1="464.35" y1="547.90" x2="464.35" y2="550.90" stroke="#444" stroke-width="1" />
<text x="464.35" y="559.40" font-size="7" text-anchor="middle" font-weight="normal" fill="#222" stroke="#222" stroke-width="0.22" >35</text>
<line x1="487.00" y1="547.90" x2="487.00" y2="550.90" stroke="#444" stroke-width="1" />
<text x="487.00" y="559.40" font-size="7" text-anchor="middle" font-weight="normal" fill="#222" stroke="#222" stroke-width="0.22" >40</text>
<line x1="509.65" y1="547.90" x2="509.65" y2="550.90" stroke="#444" stroke-width="1" />
<text x="509.65" y="559.40" font-size="7" text-anchor="middle" font-weight="normal" fill="#222" stroke="#222" stroke-width="0.22" >45</text>
<text transform="translate(277.10,486.00) rotate(-90)" font-size="7.95" text-anchor="middle" font-weight="bold" fill="#111" stroke="#111" stroke-width="0.14">Mean tumor volume (mm<tspan font-size="5.5" dy="-3">3</tspan><tspan dy="3">) ± SEM</tspan></text>
<text x="408.10" y="573.10" font-size="9.4" text-anchor="middle" font-weight="bold" fill="#111" stroke="#111" stroke-width="0.14" >Treatment (days)</text>
<line x1="311.90" y1="570.40" x2="311.90" y2="574.50" stroke="#111" stroke-width="1.8" />
<polygon points="309.40,570.90 314.40,570.90 311.90,565.50" fill="#111"/>
<polyline points="310.33,520.80 319.39,527.00 328.45,528.30 342.04,518.80 351.10,514.50 360.16,508.80 373.75,475.40 382.81,469.20 391.87,463.10" stroke="#111" stroke-width="0.9" fill="none" />
<polyline points="310.33,520.80 319.39,527.00 328.45,528.30 342.04,523.30 351.10,520.00 360.16,516.80 373.75,491.40 382.81,479.10 391.87,469.00" stroke="#111" stroke-width="0.9" fill="none" />
<polyline points="310.33,520.80 319.39,527.00 328.45,528.30 342.04,530.00 351.10,527.00 360.16,526.30 373.75,501.50 382.81,490.80 391.87,485.20" stroke="#111" stroke-width="0.9" fill="none" />
<polyline points="310.33,520.80 319.39,529.00 328.45,529.00 342.04,539.30 351.10,540.00 360.16,541.00 373.75,541.50 382.81,543.50 391.87,543.50 409.99,543.70 423.58,543.10 441.70,544.60 455.29,532.90 473.41,524.60 487.00,510.80 500.59,509.20" stroke="#111" stroke-width="0.9" fill="none" />
<polyline points="310.33,520.80 319.39,529.50 328.45,529.50 342.04,542.00 351.10,543.80 360.16,544.50 373.75,545.50 382.81,545.80 391.87,545.80 409.99,545.30 423.58,545.30 441.70,544.60 455.29,541.50 473.41,538.50 487.00,536.90 500.59,536.30" stroke="#111" stroke-width="0.9" fill="none" />
<line x1="373.75" y1="468.00" x2="373.75" y2="482.00" stroke="#111" stroke-width="1.0" />
<line x1="371.65" y1="468.00" x2="375.85" y2="468.00" stroke="#111" stroke-width="1.0" />
<line x1="371.65" y1="482.00" x2="375.85" y2="482.00" stroke="#111" stroke-width="1.0" />
<line x1="382.81" y1="462.00" x2="382.81" y2="476.00" stroke="#111" stroke-width="1.0" />
<line x1="380.71" y1="462.00" x2="384.91" y2="462.00" stroke="#111" stroke-width="1.0" />
<line x1="380.71" y1="476.00" x2="384.91" y2="476.00" stroke="#111" stroke-width="1.0" />
<line x1="391.87" y1="456.30" x2="391.87" y2="473.80" stroke="#111" stroke-width="1.0" />
<line x1="389.77" y1="456.30" x2="393.97" y2="456.30" stroke="#111" stroke-width="1.0" />
<line x1="389.77" y1="473.80" x2="393.97" y2="473.80" stroke="#111" stroke-width="1.0" />
<line x1="373.75" y1="494.00" x2="373.75" y2="508.00" stroke="#111" stroke-width="1.0" />
<line x1="371.65" y1="494.00" x2="375.85" y2="494.00" stroke="#111" stroke-width="1.0" />
<line x1="371.65" y1="508.00" x2="375.85" y2="508.00" stroke="#111" stroke-width="1.0" />
<line x1="382.81" y1="484.00" x2="382.81" y2="497.00" stroke="#111" stroke-width="1.0" />
<line x1="380.71" y1="484.00" x2="384.91" y2="484.00" stroke="#111" stroke-width="1.0" />
<line x1="380.71" y1="497.00" x2="384.91" y2="497.00" stroke="#111" stroke-width="1.0" />
<line x1="391.87" y1="478.50" x2="391.87" y2="492.30" stroke="#111" stroke-width="1.0" />
<line x1="389.77" y1="478.50" x2="393.97" y2="478.50" stroke="#111" stroke-width="1.0" />
<line x1="389.77" y1="492.30" x2="393.97" y2="492.30" stroke="#111" stroke-width="1.0" />
<line x1="455.29" y1="523.70" x2="455.29" y2="541.50" stroke="#111" stroke-width="1.0" />
<line x1="453.19" y1="523.70" x2="457.39" y2="523.70" stroke="#111" stroke-width="1.0" />
<line x1="453.19" y1="541.50" x2="457.39" y2="541.50" stroke="#111" stroke-width="1.0" />
<line x1="473.41" y1="511.40" x2="473.41" y2="537.30" stroke="#111" stroke-width="1.0" />
<line x1="471.31" y1="511.40" x2="475.51" y2="511.40" stroke="#111" stroke-width="1.0" />
<line x1="471.31" y1="537.30" x2="475.51" y2="537.30" stroke="#111" stroke-width="1.0" />
<line x1="487.00" y1="494.50" x2="487.00" y2="527.70" stroke="#111" stroke-width="1.0" />
<line x1="484.90" y1="494.50" x2="489.10" y2="494.50" stroke="#111" stroke-width="1.0" />
<line x1="484.90" y1="527.70" x2="489.10" y2="527.70" stroke="#111" stroke-width="1.0" />
<line x1="500.59" y1="495.40" x2="500.59" y2="521.50" stroke="#111" stroke-width="1.0" />
<line x1="498.49" y1="495.40" x2="502.69" y2="495.40" stroke="#111" stroke-width="1.0" />
<line x1="498.49" y1="521.50" x2="502.69" y2="521.50" stroke="#111" stroke-width="1.0" />
<line x1="473.41" y1="526.00" x2="473.41" y2="546.00" stroke="#111" stroke-width="1.0" />
<line x1="471.31" y1="526.00" x2="475.51" y2="526.00" stroke="#111" stroke-width="1.0" />
<line x1="471.31" y1="546.00" x2="475.51" y2="546.00" stroke="#111" stroke-width="1.0" />
<line x1="487.00" y1="503.00" x2="487.00" y2="547.00" stroke="#111" stroke-width="1.0" />
<line x1="484.90" y1="503.00" x2="489.10" y2="503.00" stroke="#111" stroke-width="1.0" />
<line x1="484.90" y1="547.00" x2="489.10" y2="547.00" stroke="#111" stroke-width="1.0" />
<line x1="500.59" y1="526.00" x2="500.59" y2="546.00" stroke="#111" stroke-width="1.0" />
<line x1="498.49" y1="526.00" x2="502.69" y2="526.00" stroke="#111" stroke-width="1.0" />
<line x1="498.49" y1="546.00" x2="502.69" y2="546.00" stroke="#111" stroke-width="1.0" />
<rect x="308.13" y="518.60" width="4.40" height="4.40" fill="#111" stroke="#111" stroke-width="0.5"/>
<rect x="317.19" y="524.80" width="4.40" height="4.40" fill="#111" stroke="#111" stroke-width="0.5"/>
<rect x="326.25" y="526.10" width="4.40" height="4.40" fill="#111" stroke="#111" stroke-width="0.5"/>
<rect x="339.84" y="521.10" width="4.40" height="4.40" fill="#111" stroke="#111" stroke-width="0.5"/>
<rect x="348.90" y="517.80" width="4.40" height="4.40" fill="#111" stroke="#111" stroke-width="0.5"/>
<rect x="357.96" y="514.60" width="4.40" height="4.40" fill="#111" stroke="#111" stroke-width="0.5"/>
<rect x="371.55" y="489.20" width="4.40" height="4.40" fill="#111" stroke="#111" stroke-width="0.5"/>
<rect x="380.61" y="476.90" width="4.40" height="4.40" fill="#111" stroke="#111" stroke-width="0.5"/>
<rect x="389.67" y="466.80" width="4.40" height="4.40" fill="#111" stroke="#111" stroke-width="0.5"/>
<circle cx="310.33" cy="520.80" r="2.60" fill="#fff" stroke="#111" stroke-width="0.9"/>
<circle cx="319.39" cy="527.00" r="2.60" fill="#fff" stroke="#111" stroke-width="0.9"/>
<circle cx="328.45" cy="528.30" r="2.60" fill="#fff" stroke="#111" stroke-width="0.9"/>
<circle cx="342.04" cy="530.00" r="2.60" fill="#fff" stroke="#111" stroke-width="0.9"/>
<circle cx="351.10" cy="527.00" r="2.60" fill="#fff" stroke="#111" stroke-width="0.9"/>
<circle cx="360.16" cy="526.30" r="2.60" fill="#fff" stroke="#111" stroke-width="0.9"/>
<circle cx="373.75" cy="501.50" r="2.60" fill="#fff" stroke="#111" stroke-width="0.9"/>
<circle cx="382.81" cy="490.80" r="2.60" fill="#fff" stroke="#111" stroke-width="0.9"/>
<circle cx="391.87" cy="485.20" r="2.60" fill="#fff" stroke="#111" stroke-width="0.9"/>
<polygon points="307.57,518.73 313.09,518.73 310.33,523.70" fill="#fff" stroke="#111" stroke-width="0.9" stroke-linejoin="miter"/>
<polygon points="316.63,524.93 322.15,524.93 319.39,529.90" fill="#fff" stroke="#111" stroke-width="0.9" stroke-linejoin="miter"/>
<polygon points="325.69,526.23 331.21,526.23 328.45,531.20" fill="#fff" stroke="#111" stroke-width="0.9" stroke-linejoin="miter"/>
<polygon points="339.28,516.73 344.80,516.73 342.04,521.70" fill="#fff" stroke="#111" stroke-width="0.9" stroke-linejoin="miter"/>
<polygon points="348.34,512.43 353.86,512.43 351.10,517.40" fill="#fff" stroke="#111" stroke-width="0.9" stroke-linejoin="miter"/>
<polygon points="357.40,506.73 362.92,506.73 360.16,511.70" fill="#fff" stroke="#111" stroke-width="0.9" stroke-linejoin="miter"/>
<polygon points="370.99,473.33 376.51,473.33 373.75,478.30" fill="#fff" stroke="#111" stroke-width="0.9" stroke-linejoin="miter"/>
<polygon points="380.05,467.13 385.57,467.13 382.81,472.10" fill="#fff" stroke="#111" stroke-width="0.9" stroke-linejoin="miter"/>
<polygon points="389.11,461.03 394.63,461.03 391.87,466.00" fill="#fff" stroke="#111" stroke-width="0.9" stroke-linejoin="miter"/>
<polygon points="310.33,518.17 312.95,520.80 310.33,523.42 307.70,520.80" fill="#111" stroke="#111" stroke-width="0.5"/>
<polygon points="319.39,526.88 322.01,529.50 319.39,532.12 316.76,529.50" fill="#111" stroke="#111" stroke-width="0.5"/>
<polygon points="328.45,526.88 331.07,529.50 328.45,532.12 325.82,529.50" fill="#111" stroke="#111" stroke-width="0.5"/>
<polygon points="342.04,539.38 344.67,542.00 342.04,544.62 339.42,542.00" fill="#111" stroke="#111" stroke-width="0.5"/>
<polygon points="351.10,541.17 353.73,543.80 351.10,546.42 348.48,543.80" fill="#111" stroke="#111" stroke-width="0.5"/>
<polygon points="360.16,541.88 362.79,544.50 360.16,547.12 357.54,544.50" fill="#111" stroke="#111" stroke-width="0.5"/>
<polygon points="373.75,542.88 376.38,545.50 373.75,548.12 371.12,545.50" fill="#111" stroke="#111" stroke-width="0.5"/>
<polygon points="382.81,543.17 385.44,545.80 382.81,548.42 380.19,545.80" fill="#111" stroke="#111" stroke-width="0.5"/>
<polygon points="391.87,543.17 394.50,545.80 391.87,548.42 389.25,545.80" fill="#111" stroke="#111" stroke-width="0.5"/>
<polygon points="409.99,542.67 412.62,545.30 409.99,547.92 407.37,545.30" fill="#111" stroke="#111" stroke-width="0.5"/>
<polygon points="423.58,542.67 426.21,545.30 423.58,547.92 420.96,545.30" fill="#111" stroke="#111" stroke-width="0.5"/>
<polygon points="441.70,541.98 444.33,544.60 441.70,547.23 439.08,544.60" fill="#111" stroke="#111" stroke-width="0.5"/>
<polygon points="455.29,538.88 457.92,541.50 455.29,544.12 452.67,541.50" fill="#111" stroke="#111" stroke-width="0.5"/>
<polygon points="473.41,535.88 476.04,538.50 473.41,541.12 470.79,538.50" fill="#111" stroke="#111" stroke-width="0.5"/>
<polygon points="487.00,534.27 489.62,536.90 487.00,539.52 484.38,536.90" fill="#111" stroke="#111" stroke-width="0.5"/>
<polygon points="500.59,533.67 503.22,536.30 500.59,538.92 497.97,536.30" fill="#111" stroke="#111" stroke-width="0.5"/>
<polygon points="307.57,522.87 313.09,522.87 310.33,517.90" fill="#fff" stroke="#111" stroke-width="0.9" stroke-linejoin="miter"/>
<polygon points="316.63,531.07 322.15,531.07 319.39,526.10" fill="#fff" stroke="#111" stroke-width="0.9" stroke-linejoin="miter"/>
<polygon points="325.69,531.07 331.21,531.07 328.45,526.10" fill="#fff" stroke="#111" stroke-width="0.9" stroke-linejoin="miter"/>
<polygon points="339.28,541.37 344.80,541.37 342.04,536.40" fill="#fff" stroke="#111" stroke-width="0.9" stroke-linejoin="miter"/>
<polygon points="348.34,542.07 353.86,542.07 351.10,537.10" fill="#fff" stroke="#111" stroke-width="0.9" stroke-linejoin="miter"/>
<polygon points="357.40,543.07 362.92,543.07 360.16,538.10" fill="#fff" stroke="#111" stroke-width="0.9" stroke-linejoin="miter"/>
<polygon points="370.99,543.57 376.51,543.57 373.75,538.60" fill="#fff" stroke="#111" stroke-width="0.9" stroke-linejoin="miter"/>
<polygon points="380.05,545.57 385.57,545.57 382.81,540.60" fill="#fff" stroke="#111" stroke-width="0.9" stroke-linejoin="miter"/>
<polygon points="389.11,545.57 394.63,545.57 391.87,540.60" fill="#fff" stroke="#111" stroke-width="0.9" stroke-linejoin="miter"/>
<polygon points="407.23,545.77 412.75,545.77 409.99,540.80" fill="#fff" stroke="#111" stroke-width="0.9" stroke-linejoin="miter"/>
<polygon points="420.82,545.17 426.34,545.17 423.58,540.20" fill="#fff" stroke="#111" stroke-width="0.9" stroke-linejoin="miter"/>
<polygon points="438.94,546.67 444.46,546.67 441.70,541.70" fill="#fff" stroke="#111" stroke-width="0.9" stroke-linejoin="miter"/>
<polygon points="452.53,534.97 458.05,534.97 455.29,530.00" fill="#fff" stroke="#111" stroke-width="0.9" stroke-linejoin="miter"/>
<polygon points="470.65,526.67 476.17,526.67 473.41,521.70" fill="#fff" stroke="#111" stroke-width="0.9" stroke-linejoin="miter"/>
<polygon points="484.24,512.87 489.76,512.87 487.00,507.90" fill="#fff" stroke="#111" stroke-width="0.9" stroke-linejoin="miter"/>
<polygon points="497.83,511.27 503.35,511.27 500.59,506.30" fill="#fff" stroke="#111" stroke-width="0.9" stroke-linejoin="miter"/>
<line x1="285.00" y1="585.50" x2="294.00" y2="585.50" stroke="#111" stroke-width="1.0" />
<polygon points="286.62,583.34 292.38,583.34 289.50,588.52" fill="#fff" stroke="#111" stroke-width="0.9" stroke-linejoin="miter"/>
<text x="298.80" y="587.90" font-size="7" text-anchor="start" font-weight="normal" fill="#222" stroke="#222" stroke-width="0.22" >No treat</text>
<line x1="285.00" y1="595.50" x2="294.00" y2="595.50" stroke="#111" stroke-width="1.0" />
<rect x="287.00" y="593.00" width="5.00" height="5.00" fill="#111" stroke="#111" stroke-width="0.9"/>
<text x="298.80" y="597.90" font-size="7" text-anchor="start" font-weight="normal" fill="#222" stroke="#222" stroke-width="0.22" >NJH397 10 mg/kg</text>
<line x1="364.30" y1="585.50" x2="373.30" y2="585.50" stroke="#111" stroke-width="1.0" />
<circle cx="368.80" cy="585.50" r="2.50" fill="#fff" stroke="#111" stroke-width="0.9"/>
<text x="378.60" y="587.90" font-size="7" text-anchor="start" font-weight="normal" fill="#222" stroke="#222" stroke-width="0.22" >MIW338 10 mg/kg</text>
<line x1="364.30" y1="595.50" x2="373.30" y2="595.50" stroke="#111" stroke-width="1.0" />
<polygon points="365.93,597.66 371.68,597.66 368.80,592.48" fill="#fff" stroke="#111" stroke-width="0.9" stroke-linejoin="miter"/>
<text x="378.60" y="597.90" font-size="7" text-anchor="start" font-weight="normal" fill="#222" stroke="#222" stroke-width="0.22" >NJH395 3 mg/kg</text>
<line x1="445.10" y1="585.60" x2="454.10" y2="585.60" stroke="#111" stroke-width="1.0" />
<polygon points="449.60,582.48 452.73,585.60 449.60,588.73 446.48,585.60" fill="#111" stroke="#111" stroke-width="0.9"/>
<text x="459.30" y="588.00" font-size="7" text-anchor="start" font-weight="normal" fill="#222" stroke="#222" stroke-width="0.22" >NJH395 10 mg/kg</text>
<line x1="449.30" y1="597.10" x2="449.30" y2="602.30" stroke="#111" stroke-width="1.8" />
<polygon points="446.80,597.60 451.80,597.60 449.30,591.80" fill="#111"/>
<text x="458.80" y="600.60" font-size="7" text-anchor="start" font-weight="normal" fill="#222" stroke="#222" stroke-width="0.22" >Dose</text>
<line x1="46.30" y1="738.50" x2="46.30" y2="642.60" stroke="#333" stroke-width="1.1" />
<line x1="46.30" y1="738.00" x2="242.30" y2="738.00" stroke="#333" stroke-width="1.1" />
<line x1="42.80" y1="738.00" x2="46.30" y2="738.00" stroke="#333" stroke-width="1" />
<text x="40.80" y="740.40" font-size="7" text-anchor="end" font-weight="normal" fill="#222" stroke="#222" stroke-width="0.22" >0</text>
<line x1="42.80" y1="706.20" x2="46.30" y2="706.20" stroke="#333" stroke-width="1" />
<text x="40.80" y="708.60" font-size="7" text-anchor="end" font-weight="normal" fill="#222" stroke="#222" stroke-width="0.22" >500</text>
<line x1="42.80" y1="674.40" x2="46.30" y2="674.40" stroke="#333" stroke-width="1" />
<text x="40.80" y="676.80" font-size="7" text-anchor="end" font-weight="normal" fill="#222" stroke="#222" stroke-width="0.22" >1,000</text>
<line x1="42.80" y1="642.60" x2="46.30" y2="642.60" stroke="#333" stroke-width="1" />
<text x="40.80" y="645.00" font-size="7" text-anchor="end" font-weight="normal" fill="#222" stroke="#222" stroke-width="0.22" >1,500</text>
<line x1="71.30" y1="738.00" x2="71.30" y2="741.00" stroke="#333" stroke-width="1" />
<line x1="120.00" y1="738.00" x2="120.00" y2="741.00" stroke="#333" stroke-width="1" />
<line x1="168.30" y1="738.00" x2="168.30" y2="741.00" stroke="#333" stroke-width="1" />
<line x1="217.20" y1="738.00" x2="217.20" y2="741.00" stroke="#333" stroke-width="1" />
<text transform="translate(17.30,690.80) rotate(-90)" font-size="9.6" text-anchor="middle" font-weight="bold" fill="#111" stroke="#111" stroke-width="0.14">Tumor volume (mm<tspan font-size="7" dy="-4">3</tspan><tspan dy="4">)</tspan></text>
<polyline points="65.50,646.30 65.50,640.50 217.20,640.50 217.20,646.30" stroke="#111" stroke-width="0.9" fill="none" />
<polyline points="65.50,651.30 65.50,645.50 166.30,645.50 166.30,651.30" stroke="#111" stroke-width="0.9" fill="none" />
<polyline points="65.50,662.30 65.50,656.30 119.50,656.30 119.50,662.30" stroke="#111" stroke-width="0.9" fill="none" />
<polyline points="119.50,673.80 119.50,667.50 217.20,667.50 217.20,673.80" stroke="#111" stroke-width="0.9" fill="none" />
<polyline points="166.30,687.00 166.30,681.30 217.20,681.30 217.20,687.00" stroke="#111" stroke-width="0.9" fill="none" />
<text x="141.30" y="640.80" font-size="7" text-anchor="middle" font-weight="bold" fill="#111" stroke="#111" stroke-width="0.14" >****</text>
<text x="92.50" y="656.30" font-size="7" text-anchor="middle" font-weight="bold" fill="#111" stroke="#111" stroke-width="0.14" >**</text>
<text x="168.80" y="667.40" font-size="7" text-anchor="middle" font-weight="bold" fill="#111" stroke="#111" stroke-width="0.14" >***</text>
<text x="192.50" y="681.00" font-size="7" text-anchor="middle" font-weight="bold" fill="#111" stroke="#111" stroke-width="0.14" >**</text>
<line x1="55.00" y1="680.50" x2="87.50" y2="680.50" stroke="#111" stroke-width="1.1" />
<line x1="103.80" y1="695.50" x2="135.80" y2="695.50" stroke="#111" stroke-width="1.1" />
<line x1="152.50" y1="727.50" x2="184.50" y2="727.50" stroke="#111" stroke-width="1.1" />
<line x1="205.40" y1="712.30" x2="233.00" y2="712.30" stroke="#111" stroke-width="1.1" />
<circle cx="62.00" cy="675.80" r="2.50" fill="#fff" stroke="#111" stroke-width="1.0"/>
<circle cx="71.30" cy="671.80" r="2.50" fill="#fff" stroke="#111" stroke-width="1.0"/>
<circle cx="80.00" cy="668.00" r="2.50" fill="#fff" stroke="#111" stroke-width="1.0"/>
<circle cx="80.00" cy="674.30" r="2.50" fill="#fff" stroke="#111" stroke-width="1.0"/>
<circle cx="66.30" cy="685.50" r="2.50" fill="#fff" stroke="#111" stroke-width="1.0"/>
<circle cx="75.50" cy="683.30" r="2.50" fill="#fff" stroke="#111" stroke-width="1.0"/>
<circle cx="71.30" cy="690.00" r="2.50" fill="#fff" stroke="#111" stroke-width="1.0"/>
<circle cx="71.30" cy="696.30" r="2.50" fill="#fff" stroke="#111" stroke-width="1.0"/>
<polygon points="120.00,678.05 122.75,680.80 120.00,683.55 117.25,680.80" fill="#111" stroke="#111" stroke-width="0.3"/>
<polygon points="120.00,686.75 122.75,689.50 120.00,692.25 117.25,689.50" fill="#111" stroke="#111" stroke-width="0.3"/>
<polygon points="106.30,694.75 109.05,697.50 106.30,700.25 103.55,697.50" fill="#111" stroke="#111" stroke-width="0.3"/>
<polygon points="112.50,691.75 115.25,694.50 112.50,697.25 109.75,694.50" fill="#111" stroke="#111" stroke-width="0.3"/>
<polygon points="120.00,692.75 122.75,695.50 120.00,698.25 117.25,695.50" fill="#111" stroke="#111" stroke-width="0.3"/>
<polygon points="126.30,691.75 129.05,694.50 126.30,697.25 123.55,694.50" fill="#111" stroke="#111" stroke-width="0.3"/>
<polygon points="133.30,694.75 136.05,697.50 133.30,700.25 130.55,697.50" fill="#111" stroke="#111" stroke-width="0.3"/>
<polygon points="120.00,706.75 122.75,709.50 120.00,712.25 117.25,709.50" fill="#111" stroke="#111" stroke-width="0.3"/>
<polygon points="165.89,721.31 170.72,721.31 168.30,716.96" fill="#111" stroke="#111" stroke-width="0.3" stroke-linejoin="miter"/>
<polygon points="157.09,724.31 161.91,724.31 159.50,719.96" fill="#111" stroke="#111" stroke-width="0.3" stroke-linejoin="miter"/>
<polygon points="175.09,724.81 179.91,724.81 177.50,720.46" fill="#111" stroke="#111" stroke-width="0.3" stroke-linejoin="miter"/>
<polygon points="157.09,734.31 161.91,734.31 159.50,729.96" fill="#111" stroke="#111" stroke-width="0.3" stroke-linejoin="miter"/>
<polygon points="165.89,731.81 170.72,731.81 168.30,727.46" fill="#111" stroke="#111" stroke-width="0.3" stroke-linejoin="miter"/>
<polygon points="175.09,733.11 179.91,733.11 177.50,728.76" fill="#111" stroke="#111" stroke-width="0.3" stroke-linejoin="miter"/>
<polygon points="165.89,740.11 170.72,740.11 168.30,735.76" fill="#111" stroke="#111" stroke-width="0.3" stroke-linejoin="miter"/>
<rect x="215.00" y="697.80" width="4.40" height="4.40" fill="#111" stroke="#111" stroke-width="0.3"/>
<rect x="200.90" y="709.60" width="4.40" height="4.40" fill="#111" stroke="#111" stroke-width="0.3"/>
<rect x="210.40" y="706.60" width="4.40" height="4.40" fill="#111" stroke="#111" stroke-width="0.3"/>
<rect x="219.60" y="708.10" width="4.40" height="4.40" fill="#111" stroke="#111" stroke-width="0.3"/>
<rect x="229.30" y="706.60" width="4.40" height="4.40" fill="#111" stroke="#111" stroke-width="0.3"/>
<rect x="210.40" y="715.50" width="4.40" height="4.40" fill="#111" stroke="#111" stroke-width="0.3"/>
<rect x="219.60" y="713.50" width="4.40" height="4.40" fill="#111" stroke="#111" stroke-width="0.3"/>
<rect x="215.00" y="722.40" width="4.40" height="4.40" fill="#111" stroke="#111" stroke-width="0.3"/>
<circle cx="65.00" cy="748.10" r="2.30" fill="#fff" stroke="#111" stroke-width="1.0"/>
<polygon points="65.00,752.50 67.50,755.00 65.00,757.50 62.50,755.00" fill="#111" stroke="#111" stroke-width="0.3"/>
<polygon points="62.70,763.93 67.30,763.93 65.00,759.79" fill="#111" stroke="#111" stroke-width="0.3" stroke-linejoin="miter"/>
<rect x="63.00" y="767.70" width="4.00" height="4.00" fill="#111" stroke="#111" stroke-width="0.3"/>
<text x="72.20" y="750.60" font-size="7" text-anchor="start" font-weight="normal" fill="#222" stroke="#222" stroke-width="0.22" >No treat</text>
<text x="72.20" y="757.50" font-size="7" text-anchor="start" font-weight="normal" fill="#222" stroke="#222" stroke-width="0.22" >Clodronate liposomes 0.7 mg/kg</text>
<text x="72.20" y="764.90" font-size="7" text-anchor="start" font-weight="normal" fill="#222" stroke="#222" stroke-width="0.22" >NJH395 1 mg/kg</text>
<text x="72.20" y="772.20" font-size="7" text-anchor="start" font-weight="normal" fill="#222" stroke="#222" stroke-width="0.22" >NJH395 1 mg/kg + clodronate liposomes 0.7 mg/kg</text>
<text x="305.20" y="639.60" font-size="7.0" text-anchor="middle" font-weight="bold" fill="#111" stroke="#111" stroke-width="0.14" >No treat, D0</text>
<text x="388.60" y="639.60" font-size="7.0" text-anchor="middle" font-weight="bold" fill="#111" stroke="#111" stroke-width="0.14" >Clodronate, D0</text>
<text x="474.30" y="639.60" font-size="7.0" text-anchor="middle" font-weight="bold" fill="#111" stroke="#111" stroke-width="0.14" >No treat, D5</text>
<text x="305.20" y="724.60" font-size="7.0" text-anchor="middle" font-weight="bold" fill="#111" stroke="#111" stroke-width="0.14" >Clodronate, D5</text>
<text x="388.60" y="724.60" font-size="7.0" text-anchor="middle" font-weight="bold" fill="#111" stroke="#111" stroke-width="0.14" >NJH395, D5</text>
<text x="474.50" y="724.60" font-size="7.0" text-anchor="middle" font-weight="bold" fill="#111" stroke="#111" stroke-width="0.14" >NJH395 + Clodronate, D5</text>
<defs>
<filter id="speck" x="0" y="0" width="100%" height="100%" filterUnits="objectBoundingBox" color-interpolation-filters="sRGB">
  <feTurbulence type="fractalNoise" baseFrequency="0.38" numOctaves="2" seed="3" result="n"/>
  <feColorMatrix in="n" type="matrix" values="0 0 0 0 0.92  0 0 0 0 0.92  0 0 0 0 0.95  0 0 0 -4 2.35" />
</filter>
<filter id="speck2" x="0" y="0" width="100%" height="100%" filterUnits="objectBoundingBox" color-interpolation-filters="sRGB">
  <feTurbulence type="fractalNoise" baseFrequency="0.5" numOctaves="2" seed="11" result="n"/>
  <feColorMatrix in="n" type="matrix" values="0 0 0 0 0.60  0 0 0 0 0.61  0 0 0 0 0.68  0 0 0 3.0 -1.6" />
</filter>
<filter id="vein" x="0" y="0" width="100%" height="100%" filterUnits="objectBoundingBox" color-interpolation-filters="sRGB">
  <feTurbulence type="turbulence" baseFrequency="0.12" numOctaves="3" seed="7" result="n"/>
  <feColorMatrix in="n" type="matrix" values="0 0 0 0 0.56  0 0 0 0 0.42  0 0 0 0 0.39  -6 0 0 0 1.8" />
  <feGaussianBlur stdDeviation="0.35"/>
</filter>
<filter id="vein2" x="0" y="0" width="100%" height="100%" filterUnits="objectBoundingBox" color-interpolation-filters="sRGB">
  <feTurbulence type="turbulence" baseFrequency="0.16" numOctaves="3" seed="21" result="n"/>
  <feColorMatrix in="n" type="matrix" values="0 0 0 0 0.56  0 0 0 0 0.42  0 0 0 0 0.39  -6 0 0 0 1.8" />
  <feGaussianBlur stdDeviation="0.35"/>
</filter>
<filter id="mbl" x="-20%" y="-20%" width="140%" height="140%"><feGaussianBlur stdDeviation="3"/></filter>

<clipPath id="hc0"><rect x="262.0" y="644.5" width="82.60" height="66.10"/></clipPath>
<mask id="hm0" maskUnits="userSpaceOnUse" x="257.0" y="639.5" width="92.6" height="76.1"><g filter="url(#mbl)"><polyline points="268.6,645.8 270.3,657.7 266.1,667.6 268.6,677.5 267.0,687.5 270.3,697.4 271.9,709.3" fill="none" stroke="#fff" stroke-opacity="1.0" stroke-width="7" stroke-linejoin="round" stroke-linecap="round"/><polyline points="280.2,709.3 286.8,701.3 295.0,697.4 305.0,692.1 313.2,686.8 324.0,682.2 334.7,678.9 344.6,672.3" fill="none" stroke="#fff" stroke-opacity="1.0" stroke-width="8" stroke-linejoin="round" stroke-linecap="round"/><polyline points="266.1,661.0 276.9,656.4 285.1,649.8 289.3,644.5" fill="none" stroke="#fff" stroke-opacity="0.8" stroke-width="6" stroke-linejoin="round" stroke-linecap="round"/><polyline points="342.9,663.0 341.3,677.5 343.8,687.5" fill="none" stroke="#fff" stroke-opacity="1.0" stroke-width="9" stroke-linejoin="round" stroke-linecap="round"/></g></mask>
<clipPath id="hc1"><rect x="347.5" y="644.5" width="82.20" height="66.10"/></clipPath>
<mask id="hm1" maskUnits="userSpaceOnUse" x="342.5" y="639.5" width="92.2" height="76.1"><g filter="url(#mbl)"><polyline points="349.1,702.7 363.9,704.0 380.4,701.3 396.8,696.1 413.3,688.1 428.1,678.9" fill="none" stroke="#fff" stroke-opacity="0.6" stroke-width="4" stroke-linejoin="round" stroke-linecap="round"/></g></mask>
<clipPath id="hc2"><rect x="433.3" y="644.5" width="82.10" height="66.10"/></clipPath>
<mask id="hm2" maskUnits="userSpaceOnUse" x="428.3" y="639.5" width="92.1" height="76.1"><g filter="url(#mbl)"><polyline points="445.6,709.3 453.8,702.7 466.1,700.0 478.5,702.7 490.8,709.3" fill="none" stroke="#fff" stroke-opacity="1.0" stroke-width="10" stroke-linejoin="round" stroke-linecap="round"/><polyline points="443.2,654.4 449.7,667.6 456.3,680.9" fill="none" stroke="#fff" stroke-opacity="0.7" stroke-width="5" stroke-linejoin="round" stroke-linecap="round"/><polyline points="497.3,651.1 492.4,667.6 487.5,680.9 484.2,687.5" fill="none" stroke="#fff" stroke-opacity="0.9" stroke-width="6" stroke-linejoin="round" stroke-linecap="round"/></g></mask>
<clipPath id="hc3"><rect x="262.0" y="729.0" width="82.60" height="66.40"/></clipPath>
<mask id="hm3" maskUnits="userSpaceOnUse" x="257.0" y="724.0" width="92.6" height="76.4"><g filter="url(#mbl)"><polyline points="262.0,765.5 267.0,775.5 271.9,785.4 276.9,794.1" fill="none" stroke="#fff" stroke-opacity="0.9" stroke-width="6" stroke-linejoin="round" stroke-linecap="round"/><polyline points="340.5,732.3 342.9,748.9" fill="none" stroke="#fff" stroke-opacity="0.5" stroke-width="4" stroke-linejoin="round" stroke-linecap="round"/></g></mask>
<clipPath id="hc4"><rect x="347.5" y="729.0" width="82.20" height="66.40"/></clipPath>
<mask id="hm4" maskUnits="userSpaceOnUse" x="342.5" y="724.0" width="92.2" height="76.4"><rect x="347.5" y="729.0" width="37.0" height="66.4" fill="#fff" fill-opacity="0.4"/><g filter="url(#mbl)"><polyline points="359.8,743.6 372.2,735.6 388.6,732.3 403.4,735.6" fill="none" stroke="#fff" stroke-opacity="1.0" stroke-width="8" stroke-linejoin="round" stroke-linecap="round"/><polyline points="417.4,730.3 418.2,748.9 416.5,765.5 411.6,775.5" fill="none" stroke="#fff" stroke-opacity="1.0" stroke-width="8" stroke-linejoin="round" stroke-linecap="round"/><polyline points="384.5,748.9 396.8,747.6 405.0,750.2 401.8,765.5" fill="none" stroke="#fff" stroke-opacity="0.85" stroke-width="6" stroke-linejoin="round" stroke-linecap="round"/><polyline points="350.0,748.9 351.6,768.8 350.8,792.1" fill="none" stroke="#fff" stroke-opacity="1.0" stroke-width="7" stroke-linejoin="round" stroke-linecap="round"/><polyline points="363.9,758.9 372.2,768.8 368.1,782.1 376.3,792.1" fill="none" stroke="#fff" stroke-opacity="1.0" stroke-width="12" stroke-linejoin="round" stroke-linecap="round"/><polyline points="378.7,790.1 388.6,792.7 398.5,790.1" fill="none" stroke="#fff" stroke-opacity="0.9" stroke-width="7" stroke-linejoin="round" stroke-linecap="round"/></g></mask>
<clipPath id="hc5"><rect x="433.3" y="729.0" width="82.10" height="66.40"/></clipPath>
<mask id="hm5" maskUnits="userSpaceOnUse" x="428.3" y="724.0" width="92.1" height="76.4"><rect x="433.3" y="729.0" width="82.1" height="66.4" fill="#fff" fill-opacity="0.42"/><g filter="url(#mbl)"><polyline points="438.2,745.6 444.8,762.2 449.7,778.8 457.9,792.1" fill="none" stroke="#fff" stroke-opacity="1.0" stroke-width="13" stroke-linejoin="round" stroke-linecap="round"/><polyline points="457.9,742.3 470.2,748.9 482.6,755.6 494.9,752.2 507.2,748.9 515.4,752.2" fill="none" stroke="#fff" stroke-opacity="1.0" stroke-width="11" stroke-linejoin="round" stroke-linecap="round"/><polyline points="500.6,734.3 507.2,755.6 503.9,770.2" fill="none" stroke="#fff" stroke-opacity="1.0" stroke-width="12" stroke-linejoin="round" stroke-linecap="round"/><polyline points="453.8,782.1 470.2,786.1 482.6,782.1" fill="none" stroke="#fff" stroke-opacity="1.0" stroke-width="12" stroke-linejoin="round" stroke-linecap="round"/><polyline points="466.1,765.5 474.4,772.8" fill="none" stroke="#fff" stroke-opacity="0.8" stroke-width="8" stroke-linejoin="round" stroke-linecap="round"/><polyline points="449.7,732.3 466.1,735.6 478.5,732.3" fill="none" stroke="#fff" stroke-opacity="0.8" stroke-width="8" stroke-linejoin="round" stroke-linecap="round"/></g></mask>
</defs>
<g clip-path="url(#hc0)">
<rect x="262.0" y="644.5" width="82.60" height="66.10" fill="#c6c8d1"/>
<rect x="262.0" y="644.5" width="82.60" height="66.10" filter="url(#speck)" opacity="0.5"/>
<rect x="262.0" y="644.5" width="82.60" height="66.10" filter="url(#speck2)" opacity="0.3"/>
<rect x="262.0" y="644.5" width="82.60" height="66.10" fill="#b0968e" mask="url(#hm0)" opacity="0.25"/>
<rect x="262.0" y="644.5" width="82.60" height="66.10" filter="url(#vein)" mask="url(#hm0)" opacity="0.95"/>
<rect x="313.1" y="691.8" width="31.5" height="18.8" fill="#e9e9ec"/>
<rect x="329.7" y="691.8" width="2.2" height="18.8" fill="#f4f4f6"/>
<ellipse cx="319.5" cy="699.8" rx="2.5" ry="4.6" fill="#d6cccc" stroke="#a89ca0" stroke-width="0.7"/>
<ellipse cx="338.3" cy="701.8" rx="2.5" ry="4.3" fill="#d8d8de" stroke="#a4a4ae" stroke-width="0.7"/>
</g>
<rect x="262.00" y="644.50" width="82.60" height="66.10" fill="none" stroke="#262626" stroke-width="1.2"/>
<g clip-path="url(#hc1)">
<rect x="347.5" y="644.5" width="82.20" height="66.10" fill="#cdcfd8"/>
<rect x="347.5" y="644.5" width="82.20" height="66.10" filter="url(#speck)" opacity="0.9"/>
<rect x="347.5" y="644.5" width="82.20" height="66.10" filter="url(#speck2)" opacity="0.3"/>
<rect x="347.5" y="644.5" width="82.20" height="66.10" fill="#b0968e" mask="url(#hm1)" opacity="0.25"/>
<rect x="347.5" y="644.5" width="82.20" height="66.10" filter="url(#vein2)" mask="url(#hm1)" opacity="0.6"/>
<rect x="398.2" y="691.8" width="31.5" height="18.8" fill="#e9e9ec"/>
<rect x="414.8" y="691.8" width="2.2" height="18.8" fill="#f4f4f6"/>
<ellipse cx="404.6" cy="699.8" rx="2.5" ry="4.6" fill="#d6cccc" stroke="#a89ca0" stroke-width="0.7"/>
<ellipse cx="423.4" cy="701.8" rx="2.5" ry="4.3" fill="#d8d8de" stroke="#a4a4ae" stroke-width="0.7"/>
</g>
<rect x="347.50" y="644.50" width="82.20" height="66.10" fill="none" stroke="#262626" stroke-width="1.2"/>
<g clip-path="url(#hc2)">
<rect x="433.3" y="644.5" width="82.10" height="66.10" fill="#c5c7d0"/>
<rect x="433.3" y="644.5" width="82.10" height="66.10" filter="url(#speck)" opacity="0.5"/>
<rect x="433.3" y="644.5" width="82.10" height="66.10" filter="url(#speck2)" opacity="0.3"/>
<rect x="433.3" y="644.5" width="82.10" height="66.10" fill="#b0968e" mask="url(#hm2)" opacity="0.25"/>
<rect x="433.3" y="644.5" width="82.10" height="66.10" filter="url(#vein)" mask="url(#hm2)" opacity="0.9"/>
<rect x="483.9" y="691.8" width="31.5" height="18.8" fill="#e9e9ec"/>
<rect x="500.5" y="691.8" width="2.2" height="18.8" fill="#f4f4f6"/>
<ellipse cx="490.3" cy="699.8" rx="2.5" ry="4.6" fill="#d6cccc" stroke="#a89ca0" stroke-width="0.7"/>
<ellipse cx="509.1" cy="701.8" rx="2.5" ry="4.3" fill="#d8d8de" stroke="#a4a4ae" stroke-width="0.7"/>
</g>
<rect x="433.30" y="644.50" width="82.10" height="66.10" fill="none" stroke="#262626" stroke-width="1.2"/>
<g clip-path="url(#hc3)">
<rect x="262.0" y="729.0" width="82.60" height="66.40" fill="#c8cad3"/>
<rect x="262.0" y="729.0" width="82.60" height="66.40" filter="url(#speck)" opacity="0.5"/>
<rect x="262.0" y="729.0" width="82.60" height="66.40" filter="url(#speck2)" opacity="0.3"/>
<rect x="262.0" y="729.0" width="82.60" height="66.40" fill="#b0968e" mask="url(#hm3)" opacity="0.25"/>
<rect x="262.0" y="729.0" width="82.60" height="66.40" filter="url(#vein2)" mask="url(#hm3)" opacity="0.8"/>
<rect x="313.1" y="776.6" width="31.5" height="18.8" fill="#e9e9ec"/>
<rect x="329.7" y="776.6" width="2.2" height="18.8" fill="#f4f4f6"/>
<ellipse cx="319.5" cy="784.6" rx="2.5" ry="4.6" fill="#d6cccc" stroke="#a89ca0" stroke-width="0.7"/>
<ellipse cx="338.3" cy="786.6" rx="2.5" ry="4.3" fill="#d8d8de" stroke="#a4a4ae" stroke-width="0.7"/>
</g>
<rect x="262.00" y="729.00" width="82.60" height="66.40" fill="none" stroke="#262626" stroke-width="1.2"/>
<g clip-path="url(#hc4)">
<rect x="347.5" y="729.0" width="82.20" height="66.40" fill="#c4c6cf"/>
<rect x="347.5" y="729.0" width="82.20" height="66.40" filter="url(#speck)" opacity="0.5"/>
<rect x="347.5" y="729.0" width="82.20" height="66.40" filter="url(#speck2)" opacity="0.3"/>
<rect x="347.5" y="729.0" width="82.20" height="66.40" fill="#b0968e" mask="url(#hm4)" opacity="0.45"/>
<rect x="347.5" y="729.0" width="82.20" height="66.40" filter="url(#vein)" mask="url(#hm4)" opacity="0.92"/>
<rect x="398.2" y="776.6" width="31.5" height="18.8" fill="#e9e9ec"/>
<rect x="414.8" y="776.6" width="2.2" height="18.8" fill="#f4f4f6"/>
<ellipse cx="404.6" cy="784.6" rx="2.5" ry="4.6" fill="#d6cccc" stroke="#a89ca0" stroke-width="0.7"/>
<ellipse cx="423.4" cy="786.6" rx="2.5" ry="4.3" fill="#d8d8de" stroke="#a4a4ae" stroke-width="0.7"/>
</g>
<rect x="347.50" y="729.00" width="82.20" height="66.40" fill="none" stroke="#262626" stroke-width="1.2"/>
<g clip-path="url(#hc5)">
<rect x="433.3" y="729.0" width="82.10" height="66.40" fill="#c3c5ce"/>
<rect x="433.3" y="729.0" width="82.10" height="66.40" filter="url(#speck)" opacity="0.5"/>
<rect x="433.3" y="729.0" width="82.10" height="66.40" filter="url(#speck2)" opacity="0.3"/>
<rect x="433.3" y="729.0" width="82.10" height="66.40" fill="#b0968e" mask="url(#hm5)" opacity="0.45"/>
<rect x="433.3" y="729.0" width="82.10" height="66.40" filter="url(#vein2)" mask="url(#hm5)" opacity="0.92"/>
<rect x="483.9" y="776.6" width="31.5" height="18.8" fill="#e9e9ec"/>
<rect x="500.5" y="776.6" width="2.2" height="18.8" fill="#f4f4f6"/>
<ellipse cx="490.3" cy="784.6" rx="2.5" ry="4.6" fill="#d6cccc" stroke="#a89ca0" stroke-width="0.7"/>
<ellipse cx="509.1" cy="786.6" rx="2.5" ry="4.3" fill="#d8d8de" stroke="#a4a4ae" stroke-width="0.7"/>
</g>
<rect x="433.30" y="729.00" width="82.10" height="66.40" fill="none" stroke="#262626" stroke-width="1.2"/>
</svg></body></html>
